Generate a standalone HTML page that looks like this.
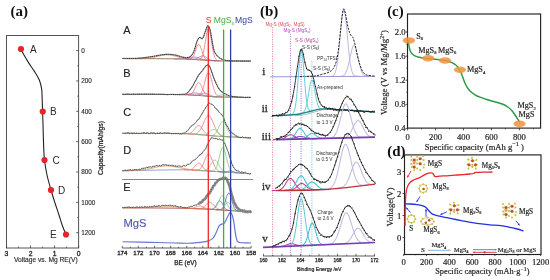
<!DOCTYPE html>
<html><head><meta charset="utf-8"><style>
html,body{margin:0;padding:0;background:#fff;}
svg{display:block;}
</style></head><body>
<svg width="550" height="280" viewBox="0 0 550 280">
<rect width="550" height="280" fill="#fff"/>
<text x="10.6" y="16" font-size="15" fill="#111" font-family="'Liberation Serif', 'Times New Roman', serif" text-anchor="start" font-weight="bold">(a)</text>
<rect x="6.5" y="35.5" width="72.1" height="212.5" fill="none" stroke="#555" stroke-width="1"/>
<line x1="76.2" y1="50.6" x2="78.6" y2="50.6" stroke="#3a3a3a" stroke-width="0.8"/>
<text x="81.2" y="52.9" font-size="6.4" fill="#2a2a2a" font-family="'Liberation Sans', Arial, sans-serif" text-anchor="start" stroke="#2a2a2a" stroke-width="0.12">0</text>
<line x1="77.2" y1="65.77" x2="78.6" y2="65.77" stroke="#3a3a3a" stroke-width="0.7"/>
<line x1="76.2" y1="80.95" x2="78.6" y2="80.95" stroke="#3a3a3a" stroke-width="0.8"/>
<text x="81.2" y="83.25" font-size="6.4" fill="#2a2a2a" font-family="'Liberation Sans', Arial, sans-serif" text-anchor="start" stroke="#2a2a2a" stroke-width="0.12">200</text>
<line x1="77.2" y1="96.12" x2="78.6" y2="96.12" stroke="#3a3a3a" stroke-width="0.7"/>
<line x1="76.2" y1="111.3" x2="78.6" y2="111.3" stroke="#3a3a3a" stroke-width="0.8"/>
<text x="81.2" y="113.6" font-size="6.4" fill="#2a2a2a" font-family="'Liberation Sans', Arial, sans-serif" text-anchor="start" stroke="#2a2a2a" stroke-width="0.12">400</text>
<line x1="77.2" y1="126.47" x2="78.6" y2="126.47" stroke="#3a3a3a" stroke-width="0.7"/>
<line x1="76.2" y1="141.65" x2="78.6" y2="141.65" stroke="#3a3a3a" stroke-width="0.8"/>
<text x="81.2" y="143.95" font-size="6.4" fill="#2a2a2a" font-family="'Liberation Sans', Arial, sans-serif" text-anchor="start" stroke="#2a2a2a" stroke-width="0.12">600</text>
<line x1="77.2" y1="156.82" x2="78.6" y2="156.82" stroke="#3a3a3a" stroke-width="0.7"/>
<line x1="76.2" y1="172" x2="78.6" y2="172" stroke="#3a3a3a" stroke-width="0.8"/>
<text x="81.2" y="174.3" font-size="6.4" fill="#2a2a2a" font-family="'Liberation Sans', Arial, sans-serif" text-anchor="start" stroke="#2a2a2a" stroke-width="0.12">800</text>
<line x1="77.2" y1="187.17" x2="78.6" y2="187.17" stroke="#3a3a3a" stroke-width="0.7"/>
<line x1="76.2" y1="202.35" x2="78.6" y2="202.35" stroke="#3a3a3a" stroke-width="0.8"/>
<text x="81.2" y="204.65" font-size="6.4" fill="#2a2a2a" font-family="'Liberation Sans', Arial, sans-serif" text-anchor="start" stroke="#2a2a2a" stroke-width="0.12">1000</text>
<line x1="77.2" y1="217.52" x2="78.6" y2="217.52" stroke="#3a3a3a" stroke-width="0.7"/>
<line x1="76.2" y1="232.7" x2="78.6" y2="232.7" stroke="#3a3a3a" stroke-width="0.8"/>
<text x="81.2" y="235" font-size="6.4" fill="#2a2a2a" font-family="'Liberation Sans', Arial, sans-serif" text-anchor="start" stroke="#2a2a2a" stroke-width="0.12">1200</text>
<line x1="6.5" y1="245.5" x2="6.5" y2="248" stroke="#3a3a3a" stroke-width="0.8"/>
<text x="6.5" y="255.9" font-size="6.8" fill="#222" font-family="'Liberation Sans', Arial, sans-serif" text-anchor="middle" stroke="#222" stroke-width="0.3">3</text>
<line x1="18.52" y1="246.5" x2="18.52" y2="248" stroke="#3a3a3a" stroke-width="0.7"/>
<line x1="30.53" y1="245.5" x2="30.53" y2="248" stroke="#3a3a3a" stroke-width="0.8"/>
<text x="30.53" y="255.9" font-size="6.8" fill="#222" font-family="'Liberation Sans', Arial, sans-serif" text-anchor="middle" stroke="#222" stroke-width="0.3">2</text>
<line x1="42.55" y1="246.5" x2="42.55" y2="248" stroke="#3a3a3a" stroke-width="0.7"/>
<line x1="54.56" y1="245.5" x2="54.56" y2="248" stroke="#3a3a3a" stroke-width="0.8"/>
<text x="54.56" y="255.9" font-size="6.8" fill="#222" font-family="'Liberation Sans', Arial, sans-serif" text-anchor="middle" stroke="#222" stroke-width="0.3">1</text>
<line x1="66.58" y1="246.5" x2="66.58" y2="248" stroke="#3a3a3a" stroke-width="0.7"/>
<line x1="78.59" y1="245.5" x2="78.59" y2="248" stroke="#3a3a3a" stroke-width="0.8"/>
<text x="78.59" y="255.9" font-size="6.8" fill="#222" font-family="'Liberation Sans', Arial, sans-serif" text-anchor="middle" stroke="#222" stroke-width="0.3">0</text>
<text x="45.8" y="262.4" font-size="6.66" fill="#2a2a2a" font-family="'Liberation Sans', Arial, sans-serif" text-anchor="middle" stroke="#2a2a2a" stroke-width="0.15">Voltage vs. Mg RE(V)</text>
<text x="0" y="0" font-size="6.8" fill="#222" stroke="#222" stroke-width="0.25" font-family="'Liberation Sans', Arial, sans-serif" text-anchor="middle" transform="translate(102.6,148) rotate(-90)">Capacity(mAh/gs)</text>
<path d="M21,49 C21.43,49.88 22.32,51.98 23.6,54.3 C24.88,56.62 26.9,60.05 28.7,62.9 C30.5,65.75 32.63,68.55 34.4,71.4 C36.17,74.25 38.1,77.13 39.3,80 C40.5,82.87 41.13,85.77 41.6,88.6 C42.07,91.43 41.93,93.18 42.1,97 C42.27,100.82 42.43,106.33 42.6,111.5 C42.77,116.67 42.93,122.42 43.1,128 C43.27,133.58 43.37,139.67 43.6,145 C43.83,150.33 43.93,155 44.5,160 C45.07,165 45.92,170 47,175 C48.08,180 49.67,185.33 51,190 C52.33,194.67 53.67,198.83 55,203 C56.33,207.17 57.75,211.17 59,215 C60.25,218.83 61.33,222.75 62.5,226 C63.67,229.25 65.42,233.08 66,234.5" fill="none" stroke="#222" stroke-width="1.1"/>
<circle cx="21" cy="49" r="3.1" fill="#e8232b"/>
<circle cx="42.75" cy="111.5" r="3.1" fill="#e8232b"/>
<circle cx="44.5" cy="160" r="3.1" fill="#e8232b"/>
<circle cx="51" cy="190" r="3.1" fill="#e8232b"/>
<circle cx="66" cy="234.5" r="3.1" fill="#e8232b"/>
<text x="30" y="52.5" font-size="10" fill="#2a2a2a" font-family="'Liberation Sans', Arial, sans-serif" text-anchor="start">A</text>
<text x="50" y="115.3" font-size="10" fill="#2a2a2a" font-family="'Liberation Sans', Arial, sans-serif" text-anchor="start">B</text>
<text x="52.5" y="163.5" font-size="10" fill="#2a2a2a" font-family="'Liberation Sans', Arial, sans-serif" text-anchor="start">C</text>
<text x="58" y="193.8" font-size="10" fill="#2a2a2a" font-family="'Liberation Sans', Arial, sans-serif" text-anchor="start">D</text>
<text x="50" y="238" font-size="10" fill="#2a2a2a" font-family="'Liberation Sans', Arial, sans-serif" text-anchor="start">E</text>
<path d="M122.5,58.6 C132.92,58.67 169.58,58.63 185,59 C200.42,59.37 204,60.43 215,60.8 C226,61.17 245,61.13 251,61.2" fill="none" stroke="#8a6a4a" stroke-width="0.9"/>
<path d="M127.1,58.63 L127.6,58.63 L128.1,58.63 L128.6,58.64 L129.1,58.64 L129.6,58.64 L130.1,58.65 L130.6,58.65 L131.1,58.65 L131.6,58.65 L132.1,58.66 L132.6,58.66 L133.1,58.66 L133.6,58.66 L134.1,58.66 L134.6,58.67 L135.1,58.67 L135.6,58.67 L136.1,58.67 L136.6,58.67 L137.1,58.67 L137.6,58.66 L138.1,58.66 L138.6,58.66 L139.1,58.65 L139.6,58.65 L140.1,58.64 L140.6,58.63 L141.1,58.62 L141.6,58.61 L142.1,58.6 L142.6,58.58 L143.1,58.56 L143.6,58.54 L144.1,58.52 L144.6,58.49 L145.1,58.46 L145.6,58.43 L146.1,58.4 L146.6,58.36 L147.1,58.31 L147.6,58.26 L148.1,58.21 L148.6,58.15 L149.1,58.09 L149.6,58.03 L150.1,57.95 L150.6,57.88 L151.1,57.8 L151.6,57.71 L152.1,57.62 L152.6,57.52 L153.1,57.42 L153.6,57.32 L154.1,57.21 L154.6,57.1 L155.1,56.98 L155.6,56.86 L156.1,56.74 L156.6,56.62 L157.1,56.5 L157.6,56.37 L158.1,56.25 L158.6,56.13 L159.1,56 L159.6,55.88 L160.1,55.77 L160.6,55.66 L161.1,55.55 L161.6,55.45 L162.1,55.35 L162.6,55.26 L163.1,55.18 L163.6,55.11 L164.1,55.05 L164.6,55 L165.1,54.95 L165.6,54.92 L166.1,54.9 L166.6,54.89 L167.1,54.89 L167.6,54.9 L168.1,54.92 L168.6,54.95 L169.1,54.99 L169.6,55.05 L170.1,55.11 L170.6,55.18 L171.1,55.27 L171.6,55.36 L172.1,55.45 L172.6,55.56 L173.1,55.67 L173.6,55.78 L174.1,55.9 L174.6,56.03 L175.1,56.16 L175.6,56.28 L176.1,56.41 L176.6,56.55 L177.1,56.68 L177.6,56.81 L178.1,56.93 L178.6,57.06 L179.1,57.18 L179.6,57.31 L180.1,57.42 L180.6,57.54 L181.1,57.65 L181.6,57.75 L182.1,57.85 L182.6,57.95 L183.1,58.04 L183.6,58.12 L184.1,58.2 L184.6,58.28 L185.1,58.35 L185.6,58.45 L186.1,58.54 L186.6,58.62 L187.1,58.7 L187.6,58.77 L188.1,58.85 L188.6,58.91 L189.1,58.98 L189.6,59.04 L190.1,59.1 L190.6,59.15 L191.1,59.21 L191.6,59.26 L192.1,59.3 L192.6,59.35 L193.1,59.39 L193.6,59.44 L194.1,59.48 L194.6,59.52 L195.1,59.56 L195.6,59.59 L196.1,59.63 L196.6,59.66 L197.1,59.7 L197.6,59.73 L198.1,59.77 L198.6,59.8 L199.1,59.83 L199.6,59.86 L200.1,59.9 L200.6,59.93 L201.1,59.96 L201.6,59.99 L202.1,60.02 L202.6,60.05 L203.1,60.08 L203.6,60.11 L204.1,60.14 L204.6,60.17 L205.1,60.2 L205.6,60.23 L206.1,60.27 L206.6,60.3" fill="none" stroke="#e07a3a" stroke-width="0.75"/>
<path d="M174,58.93 L174.5,58.93 L175,58.94 L175.5,58.94 L176,58.94 L176.5,58.94 L177,58.94 L177.5,58.95 L178,58.95 L178.5,58.95 L179,58.95 L179.5,58.94 L180,58.94 L180.5,58.93 L181,58.92 L181.5,58.91 L182,58.9 L182.5,58.87 L183,58.85 L183.5,58.81 L184,58.77 L184.5,58.72 L185,58.66 L185.5,58.62 L186,58.57 L186.5,58.5 L187,58.42 L187.5,58.34 L188,58.24 L188.5,58.14 L189,58.02 L189.5,57.9 L190,57.78 L190.5,57.66 L191,57.54 L191.5,57.43 L192,57.33 L192.5,57.24 L193,57.17 L193.5,57.12 L194,57.09 L194.5,57.08 L195,57.1 L195.5,57.14 L196,57.21 L196.5,57.3 L197,57.41 L197.5,57.54 L198,57.69 L198.5,57.85 L199,58.02 L199.5,58.2 L200,58.38 L200.5,58.56 L201,58.74 L201.5,58.92 L202,59.08 L202.5,59.24 L203,59.38 L203.5,59.52 L204,59.65 L204.5,59.76 L205,59.86 L205.5,59.95 L206,60.04 L206.5,60.11 L207,60.18 L207.5,60.24 L208,60.29 L208.5,60.34 L209,60.39 L209.5,60.43 L210,60.47 L210.5,60.51 L211,60.55 L211.5,60.58 L212,60.61 L212.5,60.64 L213,60.68 L213.5,60.71 L214,60.74 L214.5,60.77 L215,60.8 L215.5,60.8 L216,60.81" fill="none" stroke="#8a68b0" stroke-width="0.75"/>
<path d="M186.2,59.07 L186.7,59.1 L187.2,59.13 L187.7,59.16 L188.2,59.19 L188.7,59.21 L189.2,59.24 L189.7,59.27 L190.2,59.29 L190.7,59.3 L191.2,59.32 L191.7,59.32 L192.2,59.32 L192.7,59.31 L193.2,59.28 L193.7,59.24 L194.2,59.18 L194.7,59.09 L195.2,58.98 L195.7,58.85 L196.2,58.68 L196.7,58.49 L197.2,58.26 L197.7,58.02 L198.2,57.75 L198.7,57.47 L199.2,57.18 L199.7,56.89 L200.2,56.62 L200.7,56.38 L201.2,56.18 L201.7,56.02 L202.2,55.92 L202.7,55.87 L203.2,55.9 L203.7,55.99 L204.2,56.14 L204.7,56.34 L205.2,56.6 L205.7,56.9 L206.2,57.22 L206.7,57.56 L207.2,57.91 L207.7,58.26 L208.2,58.59 L208.7,58.9 L209.2,59.19 L209.7,59.45 L210.2,59.68 L210.7,59.88 L211.2,60.06 L211.7,60.21 L212.2,60.33 L212.7,60.44 L213.2,60.53 L213.7,60.6 L214.2,60.67 L214.7,60.72 L215.2,60.76 L215.7,60.78 L216.2,60.8 L216.7,60.81 L217.2,60.82 L217.7,60.83 L218.2,60.83 L218.7,60.84 L219.2,60.85 L219.7,60.85" fill="none" stroke="#8a68b0" stroke-width="0.75"/>
<path d="M185.73,59.04 L186.23,59.07 L186.73,59.1 L187.23,59.12 L187.73,59.14 L188.23,59.14 L188.73,59.14 L189.23,59.11 L189.73,59.06 L190.23,58.96 L190.73,58.8 L191.23,58.56 L191.73,58.21 L192.23,57.74 L192.73,57.11 L193.23,56.32 L193.73,55.35 L194.23,54.2 L194.73,52.9 L195.23,51.48 L195.73,50 L196.23,48.54 L196.73,47.17 L197.23,45.99 L197.73,45.08 L198.23,44.51 L198.73,44.32 L199.23,44.54 L199.73,45.14 L200.23,46.08 L200.73,47.3 L201.23,48.72 L201.73,50.24 L202.23,51.78 L202.73,53.27 L203.23,54.64 L203.73,55.86 L204.23,56.9 L204.73,57.77 L205.23,58.47 L205.73,59.02 L206.23,59.43 L206.73,59.74 L207.23,59.97 L207.73,60.13 L208.23,60.25 L208.73,60.34 L209.23,60.4 L209.73,60.45 L210.23,60.5 L210.73,60.53 L211.23,60.57 L211.73,60.6" fill="none" stroke="#f06a6a" stroke-width="0.75"/>
<path d="M195.9,59.65 L196.4,59.67 L196.9,59.7 L197.4,59.71 L197.9,59.71 L198.4,59.69 L198.9,59.64 L199.4,59.54 L199.9,59.37 L200.4,59.09 L200.9,58.66 L201.4,58.04 L201.9,57.17 L202.4,55.99 L202.9,54.47 L203.4,52.56 L203.9,50.26 L204.4,47.59 L204.9,44.62 L205.4,41.46 L205.9,38.27 L206.4,35.24 L206.9,32.56 L207.4,30.42 L207.9,29.01 L208.4,28.42 L208.9,28.72 L209.4,29.87 L209.9,31.8 L210.4,34.34 L210.9,37.32 L211.4,40.53 L211.9,43.78 L212.4,46.9 L212.9,49.76 L213.4,52.27 L213.9,54.4 L214.4,56.14 L214.9,57.51 L215.4,58.53 L215.9,59.28 L216.4,59.82 L216.9,60.19 L217.4,60.43 L217.9,60.6 L218.4,60.7 L218.9,60.76 L219.4,60.81 L219.9,60.83 L220.4,60.85 L220.9,60.86" fill="none" stroke="#f06a6a" stroke-width="0.75"/>
<path d="M122.5,58.46 L123.2,58.41 L123.9,58.53 L124.6,58.39 L125.3,58.5 L126,58.46 L126.7,58.39 L127.4,58.5 L128.1,58.39 L128.8,58.48 L129.5,58.4 L130.2,58.4 L130.9,58.47 L131.6,58.56 L132.3,58.38 L133,58.39 L133.7,58.47 L134.4,58.53 L135.1,58.41 L135.8,58.34 L136.5,58.45 L137.2,58.18 L137.9,58.34 L138.6,58.15 L139.3,58.07 L140,58.01 L140.7,58 L141.4,58.06 L142.1,57.84 L142.8,57.86 L143.5,57.8 L144.2,57.66 L144.9,57.62 L145.6,57.42 L146.3,57.33 L147,57.26 L147.7,57.27 L148.4,57.1 L149.1,56.96 L149.8,56.91 L150.5,56.76 L151.2,56.6 L151.9,56.6 L152.6,56.46 L153.3,56.23 L154,56.19 L154.7,56.06 L155.4,56.02 L156.1,55.87 L156.8,55.63 L157.5,55.67 L158.2,55.33 L158.9,55.28 L159.6,55.23 L160.3,54.97 L161,54.94 L161.7,54.73 L162.4,54.79 L163.1,54.72 L163.8,54.59 L164.5,54.58 L165.2,54.38 L165.9,54.41 L166.6,54.35 L167.3,54.32 L168,54.29 L168.7,54.4 L169.4,54.45 L170.1,54.38 L170.8,54.47 L171.5,54.39 L172.2,54.62 L172.9,54.69 L173.6,54.88 L174.3,54.95 L175,54.95 L175.7,55.12 L176.4,55.37 L177.1,55.42 L177.8,55.74 L178.5,55.9 L179.2,56.12 L179.9,56.32 L180.6,56.71 L181.3,56.74 L182,56.94 L182.7,57.13 L183.4,57.39 L184.1,57.34 L184.8,57.54 L185.5,57.63 L186.2,57.74 L186.9,57.69 L187.6,57.61 L188.3,57.35 L189,57.2 L189.7,56.89 L190.4,56.59 L191.1,56.01 L191.8,55.01 L192.5,53.97 L193.2,52.7 L193.9,51.18 L194.6,49.32 L195.3,46.99 L196,44.46 L196.7,42.18 L197.4,40.54 L198.1,39.1 L198.8,38.05 L199.5,37.47 L200.2,37.4 L200.9,37.99 L201.6,38.69 L202.3,38.8 L203,37.73 L203.7,36.27 L204.4,34.2 L205.1,32.15 L205.8,30.27 L206.5,28.08 L207.2,26.34 L207.9,25.67 L208.6,26.24 L209.3,27.37 L210,29.4 L210.7,32.7 L211.4,36.93 L212.1,40.99 L212.8,44.85 L213.5,48.47 L214.2,50.99 L214.9,52.56 L215.6,53.75 L216.3,54.54 L217,55.59 L217.7,56.36 L218.4,56.95 L219.1,57.56 L219.8,58.05 L220.5,58.43 L221.2,58.73 L221.9,59.23 L222.6,59.56 L223.3,59.71 L224,59.94 L224.7,60.04 L225.4,60.2 L226.1,60.38 L226.8,60.45 L227.5,60.66 L228.2,60.57 L228.9,60.6 L229.6,60.87 L230.3,60.81 L231,60.75 L231.7,60.88 L232.4,60.77 L233.1,60.91 L233.8,61.03 L234.5,61.02 L235.2,60.99 L235.9,60.89 L236.6,60.92 L237.3,60.88 L238,61.03 L238.7,60.98 L239.4,61.05 L240.1,60.96 L240.8,60.95 L241.5,61.1 L242.2,61.15 L242.9,61.12 L243.6,61.11 L244.3,61.11 L245,61.09 L245.7,60.97 L246.4,61.03 L247.1,60.99 L247.8,60.9 L248.5,60.9 L249.2,60.95 L249.9,60.94 L250.6,61.05" fill="none" stroke="#7a7a7a" stroke-width="1.1" stroke-linejoin="round"/>
<path d="M122.5,58.5 C124.58,58.48 131.25,58.55 135,58.4 C138.75,58.25 141.67,58 145,57.6 C148.33,57.2 152.17,56.47 155,56 C157.83,55.53 159.83,55.08 162,54.8 C164.17,54.52 165.83,54.27 168,54.3 C170.17,54.33 172.67,54.55 175,55 C177.33,55.45 180,56.57 182,57 C184,57.43 185.5,57.77 187,57.6 C188.5,57.43 189.83,57.1 191,56 C192.17,54.9 193,53.42 194,51 C195,48.58 196.07,43.78 197,41.5 C197.93,39.22 198.68,37.78 199.6,37.3 C200.52,36.82 201.52,39.65 202.5,38.6 C203.48,37.55 204.63,33.13 205.5,31 C206.37,28.87 206.95,26.05 207.7,25.8 C208.45,25.55 209.28,27.05 210,29.5 C210.72,31.95 211.33,37 212,40.5 C212.67,44 213.17,48 214,50.5 C214.83,53 216,54.22 217,55.5 C218,56.78 218.5,57.38 220,58.2 C221.5,59.02 222.67,59.93 226,60.4 C229.33,60.87 235.83,60.9 240,61 C244.17,61.1 249.17,61 251,61" fill="none" stroke="#2a2a2a" stroke-width="0.8" stroke-dasharray="1.1 1.0"/>
<text x="123.2" y="34" font-size="11" fill="#222" font-family="'Liberation Sans', Arial, sans-serif" stroke="#222" stroke-width="0.15">A</text>
<path d="M122.5,94.3 C132.92,94.37 169.58,94.28 185,94.7 C200.42,95.12 204,96.33 215,96.8 C226,97.27 245,97.38 251,97.5" fill="none" stroke="#8a6a4a" stroke-width="0.9"/>
<path d="M175,94.64 L175.5,94.64 L176,94.64 L176.5,94.64 L177,94.65 L177.5,94.65 L178,94.65 L178.5,94.65 L179,94.65 L179.5,94.65 L180,94.65 L180.5,94.65 L181,94.65 L181.5,94.64 L182,94.63 L182.5,94.62 L183,94.6 L183.5,94.58 L184,94.55 L184.5,94.52 L185,94.48 L185.5,94.46 L186,94.43 L186.5,94.39 L187,94.35 L187.5,94.29 L188,94.21 L188.5,94.13 L189,94.04 L189.5,93.94 L190,93.83 L190.5,93.72 L191,93.6 L191.5,93.49 L192,93.37 L192.5,93.27 L193,93.17 L193.5,93.09 L194,93.02 L194.5,92.98 L195,92.95 L195.5,92.95 L196,92.97 L196.5,93.02 L197,93.09 L197.5,93.19 L198,93.3 L198.5,93.44 L199,93.59 L199.5,93.76 L200,93.93 L200.5,94.12 L201,94.3 L201.5,94.49 L202,94.67 L202.5,94.85 L203,95.02 L203.5,95.18 L204,95.33 L204.5,95.48 L205,95.61 L205.5,95.72 L206,95.83 L206.5,95.93 L207,96.02 L207.5,96.1 L208,96.17 L208.5,96.24 L209,96.29 L209.5,96.35 L210,96.4 L210.5,96.45 L211,96.49 L211.5,96.53 L212,96.58 L212.5,96.61 L213,96.65 L213.5,96.69 L214,96.73 L214.5,96.76 L215,96.8 L215.5,96.81 L216,96.82 L216.5,96.83 L217,96.84" fill="none" stroke="#8a68b0" stroke-width="0.75"/>
<path d="M188.2,94.92 L188.7,94.96 L189.2,94.99 L189.7,95.03 L190.2,95.06 L190.7,95.09 L191.2,95.13 L191.7,95.16 L192.2,95.19 L192.7,95.21 L193.2,95.24 L193.7,95.25 L194.2,95.27 L194.7,95.27 L195.2,95.26 L195.7,95.25 L196.2,95.22 L196.7,95.17 L197.2,95.11 L197.7,95.02 L198.2,94.92 L198.7,94.79 L199.2,94.65 L199.7,94.48 L200.2,94.3 L200.7,94.12 L201.2,93.92 L201.7,93.73 L202.2,93.56 L202.7,93.4 L203.2,93.26 L203.7,93.16 L204.2,93.1 L204.7,93.09 L205.2,93.12 L205.7,93.19 L206.2,93.32 L206.7,93.48 L207.2,93.68 L207.7,93.9 L208.2,94.15 L208.7,94.4 L209.2,94.67 L209.7,94.92 L210.2,95.18 L210.7,95.41 L211.2,95.63 L211.7,95.83 L212.2,96.01 L212.7,96.17 L213.2,96.31 L213.7,96.43 L214.2,96.53 L214.7,96.62 L215.2,96.69 L215.7,96.73 L216.2,96.76 L216.7,96.79 L217.2,96.81 L217.7,96.83 L218.2,96.85 L218.7,96.86 L219.2,96.88 L219.7,96.89 L220.2,96.9 L220.7,96.91 L221.2,96.92 L221.7,96.93" fill="none" stroke="#8a68b0" stroke-width="0.75"/>
<path d="M184.05,94.69 L184.55,94.69 L185.05,94.7 L185.55,94.73 L186.05,94.76 L186.55,94.78 L187.05,94.79 L187.55,94.8 L188.05,94.79 L188.55,94.76 L189.05,94.7 L189.55,94.61 L190.05,94.46 L190.55,94.25 L191.05,93.97 L191.55,93.59 L192.05,93.11 L192.55,92.52 L193.05,91.81 L193.55,90.99 L194.05,90.06 L194.55,89.04 L195.05,87.97 L195.55,86.88 L196.05,85.82 L196.55,84.84 L197.05,83.99 L197.55,83.32 L198.05,82.87 L198.55,82.67 L199.05,82.73 L199.55,83.05 L200.05,83.62 L200.55,84.4 L201.05,85.35 L201.55,86.42 L202.05,87.56 L202.55,88.72 L203.05,89.85 L203.55,90.92 L204.05,91.9 L204.55,92.78 L205.05,93.53 L205.55,94.17 L206.05,94.7 L206.55,95.12 L207.05,95.46 L207.55,95.73 L208.05,95.93 L208.55,96.09 L209.05,96.21 L209.55,96.31 L210.05,96.38 L210.55,96.44 L211.05,96.5 L211.55,96.54 L212.05,96.58 L212.55,96.62 L213.05,96.66" fill="none" stroke="#f06a6a" stroke-width="0.75"/>
<path d="M193.38,95.28 L193.88,95.32 L194.38,95.35 L194.88,95.37 L195.38,95.4 L195.88,95.41 L196.38,95.42 L196.88,95.4 L197.38,95.37 L197.88,95.3 L198.38,95.18 L198.88,95.01 L199.38,94.75 L199.88,94.4 L200.38,93.92 L200.88,93.3 L201.38,92.51 L201.88,91.53 L202.38,90.35 L202.88,88.97 L203.38,87.4 L203.88,85.66 L204.38,83.8 L204.88,81.86 L205.38,79.92 L205.88,78.05 L206.38,76.35 L206.88,74.9 L207.38,73.78 L207.88,73.05 L208.38,72.75 L208.88,72.9 L209.38,73.5 L209.88,74.51 L210.38,75.88 L210.88,77.54 L211.38,79.41 L211.88,81.39 L212.38,83.41 L212.88,85.39 L213.38,87.27 L213.88,89 L214.38,90.54 L214.88,91.88 L215.38,93.01 L215.88,93.93 L216.38,94.68 L216.88,95.27 L217.38,95.72 L217.88,96.06 L218.38,96.32 L218.88,96.51 L219.38,96.64 L219.88,96.74 L220.38,96.8 L220.88,96.85 L221.38,96.88 L221.88,96.91 L222.38,96.93 L222.88,96.95 L223.38,96.96" fill="none" stroke="#f06a6a" stroke-width="0.75"/>
<path d="M209.4,96.41 L209.9,96.44 L210.4,96.48 L210.9,96.51 L211.4,96.54 L211.9,96.58 L212.4,96.61 L212.9,96.63 L213.4,96.66 L213.9,96.67 L214.4,96.68 L214.9,96.67 L215.4,96.63 L215.9,96.56 L216.4,96.48 L216.9,96.37 L217.4,96.23 L217.9,96.07 L218.4,95.89 L218.9,95.7 L219.4,95.51 L219.9,95.33 L220.4,95.17 L220.9,95.04 L221.4,94.96 L221.9,94.94 L222.4,94.96 L222.9,95.04 L223.4,95.17 L223.9,95.34 L224.4,95.53 L224.9,95.74 L225.4,95.95 L225.9,96.15 L226.4,96.34 L226.9,96.5 L227.4,96.65 L227.9,96.76 L228.4,96.86 L228.9,96.93 L229.4,96.98 L229.9,97.03 L230.4,97.06 L230.9,97.08 L231.4,97.1 L231.9,97.12 L232.4,97.13 L232.9,97.15 L233.4,97.16 L233.9,97.17 L234.4,97.18" fill="none" stroke="#70b870" stroke-width="0.75"/>
<path d="M122.5,94.57 L123.2,94.27 L123.9,94.56 L124.6,94.58 L125.3,94.56 L126,94.2 L126.7,94.11 L127.4,94.11 L128.1,94.09 L128.8,94.09 L129.5,94.34 L130.2,94.5 L130.9,94.46 L131.6,94.24 L132.3,94.34 L133,94.42 L133.7,93.99 L134.4,94.33 L135.1,94.48 L135.8,94.39 L136.5,94.37 L137.2,94.2 L137.9,94.02 L138.6,94.38 L139.3,94.11 L140,94.39 L140.7,94.48 L141.4,94.14 L142.1,94.14 L142.8,94.46 L143.5,94.33 L144.2,93.99 L144.9,93.97 L145.6,93.98 L146.3,94.43 L147,94.38 L147.7,93.98 L148.4,94.39 L149.1,94.48 L149.8,94.29 L150.5,94.11 L151.2,94.24 L151.9,93.99 L152.6,93.93 L153.3,94.51 L154,94.33 L154.7,94.27 L155.4,94.52 L156.1,94.24 L156.8,94.51 L157.5,94.5 L158.2,94.14 L158.9,94.18 L159.6,94.22 L160.3,94.2 L161,94.43 L161.7,94.24 L162.4,94.35 L163.1,94.19 L163.8,94.67 L164.5,94.35 L165.2,94.43 L165.9,94.51 L166.6,94.71 L167.3,94.43 L168,94.74 L168.7,94.49 L169.4,94.52 L170.1,94.51 L170.8,94.21 L171.5,94.47 L172.2,94.32 L172.9,94.22 L173.6,94.7 L174.3,94.33 L175,94.51 L175.7,94.67 L176.4,94.56 L177.1,94.42 L177.8,94.53 L178.5,94.54 L179.2,94.66 L179.9,94.23 L180.6,94.48 L181.3,94.26 L182,94.23 L182.7,94.49 L183.4,94.28 L184.1,94.27 L184.8,94.31 L185.5,94.24 L186.2,93.69 L186.9,93.35 L187.6,92.68 L188.3,91.98 L189,91.29 L189.7,90.27 L190.4,89.38 L191.1,88.34 L191.8,87.57 L192.5,86.32 L193.2,85.23 L193.9,83.99 L194.6,82.27 L195.3,81.11 L196,80.01 L196.7,78.66 L197.4,77.01 L198.1,75.86 L198.8,75.03 L199.5,73.87 L200.2,73.09 L200.9,72.14 L201.6,71.62 L202.3,70.77 L203,69.85 L203.7,68.43 L204.4,67.84 L205.1,66.99 L205.8,65.88 L206.5,65.61 L207.2,65.18 L207.9,64.66 L208.6,65.44 L209.3,65.88 L210,67.19 L210.7,69.19 L211.4,71.08 L212.1,72.8 L212.8,75.1 L213.5,77.17 L214.2,78.84 L214.9,80.46 L215.6,82.18 L216.3,84 L217,85.07 L217.7,86.77 L218.4,87.96 L219.1,88.78 L219.8,89.83 L220.5,90.73 L221.2,91.3 L221.9,91.65 L222.6,92.77 L223.3,93.1 L224,93.59 L224.7,93.41 L225.4,93.87 L226.1,94.1 L226.8,94.9 L227.5,94.94 L228.2,95.17 L228.9,95.62 L229.6,96.14 L230.3,96.26 L231,96.07 L231.7,96.14 L232.4,96.72 L233.1,96.61 L233.8,96.79 L234.5,96.5 L235.2,96.56 L235.9,97 L236.6,96.91 L237.3,96.75 L238,97.32 L238.7,97.19 L239.4,97.34 L240.1,96.96 L240.8,97.47 L241.5,97.03 L242.2,97.54 L242.9,97.32 L243.6,97.27 L244.3,97.42 L245,97.66 L245.7,97.27 L246.4,97.2 L247.1,97.45 L247.8,97.28 L248.5,97.22 L249.2,97.26 L249.9,97.2 L250.6,97.31" fill="none" stroke="#7a7a7a" stroke-width="1.1" stroke-linejoin="round"/>
<path d="M122.5,94.3 C127.08,94.28 142.08,94.17 150,94.2 C157.92,94.23 164.5,94.48 170,94.5 C175.5,94.52 180.17,94.52 183,94.3 C185.83,94.08 185.5,94.42 187,93.2 C188.5,91.98 190.18,89.8 192,87 C193.82,84.2 196.23,79.07 197.9,76.4 C199.57,73.73 200.82,72.57 202,71 C203.18,69.43 204.05,68.03 205,67 C205.95,65.97 206.87,64.77 207.7,64.8 C208.53,64.83 208.97,64.97 210,67.2 C211.03,69.43 212.5,74.73 213.9,78.2 C215.3,81.67 217.05,85.7 218.4,88 C219.75,90.3 220.97,91.07 222,92 C223.03,92.93 223.27,92.93 224.6,93.6 C225.93,94.27 227.43,95.4 230,96 C232.57,96.6 236.5,96.95 240,97.2 C243.5,97.45 249.17,97.45 251,97.5" fill="none" stroke="#2a2a2a" stroke-width="0.8" stroke-dasharray="1.1 1.0"/>
<text x="123.2" y="77" font-size="11" fill="#222" font-family="'Liberation Sans', Arial, sans-serif" stroke="#222" stroke-width="0.15">B</text>
<path d="M122.5,133.4 C132.92,133.45 169.58,133.27 185,133.7 C200.42,134.13 204,135.28 215,136 C226,136.72 245,137.67 251,138" fill="none" stroke="#8a8a5a" stroke-width="0.9"/>
<path d="M181.95,133.68 L182.45,133.69 L182.95,133.69 L183.45,133.69 L183.95,133.69 L184.45,133.68 L184.95,133.68 L185.45,133.7 L185.95,133.72 L186.45,133.73 L186.95,133.73 L187.45,133.72 L187.95,133.69 L188.45,133.63 L188.95,133.55 L189.45,133.42 L189.95,133.26 L190.45,133.05 L190.95,132.78 L191.45,132.45 L191.95,132.06 L192.45,131.61 L192.95,131.09 L193.45,130.52 L193.95,129.91 L194.45,129.26 L194.95,128.6 L195.45,127.95 L195.95,127.34 L196.45,126.78 L196.95,126.3 L197.45,125.93 L197.95,125.68 L198.45,125.56 L198.95,125.58 L199.45,125.75 L199.95,126.05 L200.45,126.48 L200.95,127.01 L201.45,127.64 L201.95,128.32 L202.45,129.04 L202.95,129.77 L203.45,130.5 L203.95,131.2 L204.45,131.86 L204.95,132.46 L205.45,133.01 L205.95,133.49 L206.45,133.9 L206.95,134.26 L207.45,134.56 L207.95,134.81 L208.45,135.01 L208.95,135.18 L209.45,135.32 L209.95,135.43 L210.45,135.52 L210.95,135.6 L211.45,135.67 L211.95,135.73 L212.45,135.78 L212.95,135.83 L213.45,135.87 L213.95,135.91 L214.45,135.95 L214.95,135.99 L215.45,136.02" fill="none" stroke="#f06a6a" stroke-width="0.75"/>
<path d="M187.6,133.9 L188.1,133.93 L188.6,133.97 L189.1,134 L189.6,134.04 L190.1,134.07 L190.6,134.1 L191.1,134.12 L191.6,134.14 L192.1,134.16 L192.6,134.16 L193.1,134.16 L193.6,134.14 L194.1,134.1 L194.6,134.04 L195.1,133.95 L195.6,133.83 L196.1,133.67 L196.6,133.47 L197.1,133.21 L197.6,132.89 L198.1,132.5 L198.6,132.04 L199.1,131.49 L199.6,130.86 L200.1,130.14 L200.6,129.34 L201.1,128.44 L201.6,127.47 L202.1,126.42 L202.6,125.31 L203.1,124.17 L203.6,123 L204.1,121.82 L204.6,120.68 L205.1,119.59 L205.6,118.57 L206.1,117.67 L206.6,116.89 L207.1,116.27 L207.6,115.83 L208.1,115.57 L208.6,115.51 L209.1,115.65 L209.6,115.98 L210.1,116.5 L210.6,117.2 L211.1,118.05 L211.6,119.03 L212.1,120.12 L212.6,121.29 L213.1,122.51 L213.6,123.76 L214.1,125.01 L214.6,126.23 L215.1,127.41 L215.6,128.53 L216.1,129.57 L216.6,130.53 L217.1,131.4 L217.6,132.19 L218.1,132.88 L218.6,133.49 L219.1,134.02 L219.6,134.48 L220.1,134.86 L220.6,135.19 L221.1,135.46 L221.6,135.69 L222.1,135.87 L222.6,136.03 L223.1,136.15 L223.6,136.26 L224.1,136.34 L224.6,136.41 L225.1,136.47 L225.6,136.53 L226.1,136.57 L226.6,136.61 L227.1,136.65 L227.6,136.69 L228.1,136.72 L228.6,136.75 L229.1,136.78 L229.6,136.81" fill="none" stroke="#f06a6a" stroke-width="0.75"/>
<path d="M197.1,134.63 L197.6,134.66 L198.1,134.7 L198.6,134.74 L199.1,134.77 L199.6,134.81 L200.1,134.84 L200.6,134.87 L201.1,134.9 L201.6,134.92 L202.1,134.93 L202.6,134.93 L203.1,134.92 L203.6,134.89 L204.1,134.84 L204.6,134.77 L205.1,134.66 L205.6,134.52 L206.1,134.35 L206.6,134.13 L207.1,133.86 L207.6,133.55 L208.1,133.2 L208.6,132.81 L209.1,132.38 L209.6,131.94 L210.1,131.48 L210.6,131.04 L211.1,130.61 L211.6,130.23 L212.1,129.9 L212.6,129.65 L213.1,129.48 L213.6,129.41 L214.1,129.44 L214.6,129.57 L215.1,129.79 L215.6,130.09 L216.1,130.47 L216.6,130.91 L217.1,131.4 L217.6,131.91 L218.1,132.43 L218.6,132.94 L219.1,133.44 L219.6,133.9 L220.1,134.33 L220.6,134.71 L221.1,135.05 L221.6,135.35 L222.1,135.6 L222.6,135.81 L223.1,135.99 L223.6,136.13 L224.1,136.25 L224.6,136.35 L225.1,136.43 L225.6,136.5 L226.1,136.55 L226.6,136.6 L227.1,136.64 L227.6,136.68 L228.1,136.72 L228.6,136.75 L229.1,136.78 L229.6,136.81 L230.1,136.84 L230.6,136.87" fill="none" stroke="#78c078" stroke-width="0.75"/>
<path d="M206.1,135.32 L206.6,135.35 L207.1,135.39 L207.6,135.42 L208.1,135.46 L208.6,135.48 L209.1,135.51 L209.6,135.53 L210.1,135.53 L210.6,135.53 L211.1,135.51 L211.6,135.46 L212.1,135.39 L212.6,135.27 L213.1,135.11 L213.6,134.89 L214.1,134.6 L214.6,134.23 L215.1,133.76 L215.6,133.2 L216.1,132.52 L216.6,131.75 L217.1,130.87 L217.6,129.91 L218.1,128.87 L218.6,127.78 L219.1,126.68 L219.6,125.58 L220.1,124.54 L220.6,123.6 L221.1,122.78 L221.6,122.14 L222.1,121.69 L222.6,121.46 L223.1,121.47 L223.6,121.71 L224.1,122.17 L224.6,122.83 L225.1,123.67 L225.6,124.64 L226.1,125.72 L226.6,126.87 L227.1,128.03 L227.6,129.18 L228.1,130.28 L228.6,131.32 L229.1,132.27 L229.6,133.12 L230.1,133.87 L230.6,134.51 L231.1,135.06 L231.6,135.51 L232.1,135.88 L232.6,136.19 L233.1,136.42 L233.6,136.61 L234.1,136.76 L234.6,136.88 L235.1,136.97 L235.6,137.05 L236.1,137.11 L236.6,137.16 L237.1,137.2 L237.6,137.24 L238.1,137.27 L238.6,137.3 L239.1,137.33 L239.6,137.36" fill="none" stroke="#78c078" stroke-width="0.75"/>
<path d="M122.5,133.02 L123.2,133 L123.9,133.68 L124.6,132.98 L125.3,133.29 L126,132.8 L126.7,133.05 L127.4,132.56 L128.1,132.9 L128.8,132.54 L129.5,133.62 L130.2,133.34 L130.9,132.79 L131.6,133.22 L132.3,133.9 L133,132.66 L133.7,133.72 L134.4,133.14 L135.1,133.23 L135.8,133.74 L136.5,133.07 L137.2,133.24 L137.9,133.5 L138.6,133.94 L139.3,132.98 L140,133.71 L140.7,133.52 L141.4,133.41 L142.1,133.06 L142.8,132.98 L143.5,132.53 L144.2,132.65 L144.9,132.56 L145.6,133.56 L146.3,132.83 L147,132.69 L147.7,132.57 L148.4,133.71 L149.1,133.75 L149.8,133.46 L150.5,132.87 L151.2,132.82 L151.9,132.9 L152.6,133.15 L153.3,132.7 L154,133.14 L154.7,132.87 L155.4,133.93 L156.1,133.95 L156.8,133.32 L157.5,132.88 L158.2,133.97 L158.9,132.99 L159.6,133.07 L160.3,132.55 L161,133.13 L161.7,133.28 L162.4,133.33 L163.1,132.88 L163.8,133.35 L164.5,132.61 L165.2,133 L165.9,132.75 L166.6,133.22 L167.3,132.69 L168,132.67 L168.7,133.1 L169.4,133 L170.1,133.53 L170.8,133.45 L171.5,133.78 L172.2,133.64 L172.9,133.73 L173.6,133.97 L174.3,133.24 L175,133.14 L175.7,134.14 L176.4,132.92 L177.1,133.82 L177.8,133.76 L178.5,132.91 L179.2,134.14 L179.9,134.24 L180.6,133.84 L181.3,133.96 L182,134 L182.7,132.86 L183.4,133.25 L184.1,132.97 L184.8,133.1 L185.5,132.58 L186.2,132.05 L186.9,131.06 L187.6,130.84 L188.3,129.81 L189,129.09 L189.7,127.68 L190.4,126.68 L191.1,126.18 L191.8,125.88 L192.5,124.86 L193.2,125.32 L193.9,124.26 L194.6,123.7 L195.3,123.02 L196,122.39 L196.7,121.36 L197.4,119.85 L198.1,120.2 L198.8,119.21 L199.5,117.84 L200.2,116.82 L200.9,115.9 L201.6,113.89 L202.3,113.77 L203,111.94 L203.7,110.56 L204.4,109.63 L205.1,109.07 L205.8,107.02 L206.5,106.62 L207.2,105.87 L207.9,104.21 L208.6,103.32 L209.3,103.12 L210,103.5 L210.7,103.97 L211.4,104.24 L212.1,104.79 L212.8,104.53 L213.5,105.35 L214.2,106.31 L214.9,107.86 L215.6,108 L216.3,109.15 L217,109.07 L217.7,109.91 L218.4,110.99 L219.1,112.37 L219.8,113.11 L220.5,113.76 L221.2,113.88 L221.9,115.01 L222.6,115.88 L223.3,117.11 L224,118.27 L224.7,121.31 L225.4,122.03 L226.1,124.67 L226.8,125.97 L227.5,125.88 L228.2,127.8 L228.9,129.58 L229.6,130.9 L230.3,130.95 L231,131.42 L231.7,132.03 L232.4,133.8 L233.1,133.32 L233.8,134.45 L234.5,134.32 L235.2,135.37 L235.9,136.43 L236.6,135.58 L237.3,136.95 L238,136.76 L238.7,137.57 L239.4,137.48 L240.1,136.91 L240.8,138.02 L241.5,137.5 L242.2,136.88 L242.9,136.92 L243.6,137.7 L244.3,137.68 L245,137.49 L245.7,137.27 L246.4,137.6 L247.1,137.58 L247.8,138.38 L248.5,137.14 L249.2,138.29 L249.9,138.45 L250.6,137.41" fill="none" stroke="#6e6e6e" stroke-width="1.0" stroke-linejoin="round"/>
<path d="M122.5,133.3 C127.08,133.28 141.25,133.18 150,133.2 C158.75,133.22 169.33,133.43 175,133.4 C180.67,133.37 181.38,134.05 184,133 C186.62,131.95 188.38,129.27 190.7,127.1 C193.02,124.93 195.82,122.52 197.9,120 C199.98,117.48 201.42,114.75 203.2,112 C204.98,109.25 207.13,104.75 208.6,103.5 C210.07,102.25 210.82,103.68 212,104.5 C213.18,105.32 214.53,107.15 215.7,108.4 C216.87,109.65 217.8,110.67 219,112 C220.2,113.33 221.82,114.62 222.9,116.4 C223.98,118.18 224.65,120.85 225.5,122.7 C226.35,124.55 227.25,126.17 228,127.5 C228.75,128.83 228.83,129.42 230,130.7 C231.17,131.98 233.33,134.1 235,135.2 C236.67,136.3 237.33,136.83 240,137.3 C242.67,137.77 249.17,137.88 251,138" fill="none" stroke="#222" stroke-width="0.55" stroke-dasharray="0.8 1.5"/>
<text x="123.2" y="115.5" font-size="11" fill="#222" font-family="'Liberation Sans', Arial, sans-serif" stroke="#222" stroke-width="0.15">C</text>
<path d="M122.5,170.8 C132.92,170.63 169.58,169.68 185,169.8 C200.42,169.92 204,170.83 215,171.5 C226,172.17 245,173.42 251,173.8" fill="none" stroke="#8898c8" stroke-width="0.9"/>
<path d="M122.5,170.79 L123,170.79 L123.5,170.78 L124,170.77 L124.5,170.76 L125,170.75 L125.5,170.74 L126,170.73 L126.5,170.72 L127,170.71 L127.5,170.7 L128,170.68 L128.5,170.67 L129,170.66 L129.5,170.65 L130,170.63 L130.5,170.62 L131,170.6 L131.5,170.59 L132,170.57 L132.5,170.55 L133,170.54 L133.5,170.52 L134,170.5 L134.5,170.47 L135,170.45 L135.5,170.43 L136,170.4 L136.5,170.37 L137,170.34 L137.5,170.31 L138,170.28 L138.5,170.24 L139,170.2 L139.5,170.16 L140,170.12 L140.5,170.07 L141,170.02 L141.5,169.97 L142,169.92 L142.5,169.86 L143,169.8 L143.5,169.74 L144,169.67 L144.5,169.6 L145,169.53 L145.5,169.46 L146,169.38 L146.5,169.29 L147,169.21 L147.5,169.12 L148,169.03 L148.5,168.93 L149,168.84 L149.5,168.74 L150,168.63 L150.5,168.53 L151,168.42 L151.5,168.31 L152,168.2 L152.5,168.09 L153,167.98 L153.5,167.86 L154,167.75 L154.5,167.63 L155,167.52 L155.5,167.41 L156,167.3 L156.5,167.19 L157,167.08 L157.5,166.97 L158,166.87 L158.5,166.77 L159,166.67 L159.5,166.58 L160,166.49 L160.5,166.41 L161,166.33 L161.5,166.26 L162,166.19 L162.5,166.13 L163,166.08 L163.5,166.03 L164,165.99 L164.5,165.96 L165,165.93 L165.5,165.92 L166,165.9 L166.5,165.9 L167,165.9 L167.5,165.91 L168,165.93 L168.5,165.95 L169,165.99 L169.5,166.02 L170,166.07 L170.5,166.12 L171,166.17 L171.5,166.23 L172,166.3 L172.5,166.37 L173,166.45 L173.5,166.53 L174,166.61 L174.5,166.7 L175,166.79 L175.5,166.88 L176,166.98 L176.5,167.07 L177,167.17 L177.5,167.27 L178,167.36 L178.5,167.46 L179,167.56 L179.5,167.66 L180,167.75 L180.5,167.85 L181,167.94 L181.5,168.03 L182,168.12 L182.5,168.21 L183,168.29 L183.5,168.37 L184,168.45 L184.5,168.53 L185,168.6 L185.5,168.71 L186,168.81 L186.5,168.91 L187,169.01 L187.5,169.1 L188,169.19 L188.5,169.27 L189,169.36 L189.5,169.44 L190,169.51 L190.5,169.59 L191,169.66 L191.5,169.73 L192,169.8 L192.5,169.86 L193,169.92 L193.5,169.98 L194,170.03 L194.5,170.09 L195,170.14 L195.5,170.19 L196,170.24 L196.5,170.29 L197,170.33 L197.5,170.37 L198,170.42 L198.5,170.46 L199,170.5 L199.5,170.54 L200,170.57 L200.5,170.61 L201,170.65 L201.5,170.68 L202,170.72 L202.5,170.75 L203,170.78 L203.5,170.82 L204,170.85 L204.5,170.88 L205,170.91 L205.5,170.94 L206,170.97 L206.5,171 L207,171.03 L207.5,171.06 L208,171.09 L208.5,171.12 L209,171.15 L209.5,171.18 L210,171.21 L210.5,171.24 L211,171.27 L211.5,171.3 L212,171.33 L212.5,171.36 L213,171.38 L213.5,171.41 L214,171.44 L214.5,171.47 L215,171.5 L215.5,171.53 L216,171.56" fill="none" stroke="#e07a3a" stroke-width="0.75"/>
<path d="M184.05,169.81 L184.55,169.81 L185.05,169.8 L185.55,169.83 L186.05,169.85 L186.55,169.87 L187.05,169.89 L187.55,169.9 L188.05,169.9 L188.55,169.89 L189.05,169.87 L189.55,169.82 L190.05,169.74 L190.55,169.63 L191.05,169.48 L191.55,169.27 L192.05,169 L192.55,168.67 L193.05,168.26 L193.55,167.8 L194.05,167.27 L194.55,166.69 L195.05,166.08 L195.55,165.46 L196.05,164.86 L196.55,164.3 L197.05,163.82 L197.55,163.44 L198.05,163.19 L198.55,163.08 L199.05,163.12 L199.55,163.32 L200.05,163.65 L200.55,164.11 L201.05,164.67 L201.55,165.29 L202.05,165.96 L202.55,166.63 L203.05,167.3 L203.55,167.92 L204.05,168.5 L204.55,169.01 L205.05,169.45 L205.55,169.83 L206.05,170.14 L206.55,170.4 L207.05,170.6 L207.55,170.76 L208.05,170.89 L208.55,170.99 L209.05,171.06 L209.55,171.13 L210.05,171.18 L210.55,171.22 L211.05,171.26 L211.55,171.3 L212.05,171.33 L212.55,171.36 L213.05,171.39" fill="none" stroke="#f06a6a" stroke-width="0.75"/>
<path d="M191.8,170.18 L192.3,170.21 L192.8,170.24 L193.3,170.26 L193.8,170.28 L194.3,170.3 L194.8,170.31 L195.3,170.32 L195.8,170.31 L196.3,170.29 L196.8,170.25 L197.3,170.18 L197.8,170.08 L198.3,169.94 L198.8,169.74 L199.3,169.47 L199.8,169.13 L200.3,168.69 L200.8,168.16 L201.3,167.51 L201.8,166.74 L202.3,165.86 L202.8,164.87 L203.3,163.77 L203.8,162.59 L204.3,161.35 L204.8,160.1 L205.3,158.85 L205.8,157.67 L206.3,156.6 L206.8,155.67 L207.3,154.94 L207.8,154.43 L208.3,154.17 L208.8,154.17 L209.3,154.44 L209.8,154.95 L210.3,155.7 L210.8,156.65 L211.3,157.75 L211.8,158.97 L212.3,160.26 L212.8,161.58 L213.3,162.88 L213.8,164.13 L214.3,165.3 L214.8,166.37 L215.3,167.34 L215.8,168.19 L216.3,168.92 L216.8,169.54 L217.3,170.05 L217.8,170.47 L218.3,170.81 L218.8,171.08 L219.3,171.3 L219.8,171.47 L220.3,171.6 L220.8,171.71 L221.3,171.79 L221.8,171.86 L222.3,171.92 L222.8,171.97 L223.3,172.01 L223.8,172.05 L224.3,172.09 L224.8,172.12 L225.3,172.16" fill="none" stroke="#f06a6a" stroke-width="0.75"/>
<path d="M198,170.53 L198.5,170.56 L199,170.59 L199.5,170.61 L200,170.64 L200.5,170.66 L201,170.68 L201.5,170.69 L202,170.69 L202.5,170.69 L203,170.67 L203.5,170.64 L204,170.58 L204.5,170.49 L205,170.36 L205.5,170.19 L206,169.97 L206.5,169.68 L207,169.33 L207.5,168.9 L208,168.39 L208.5,167.8 L209,167.14 L209.5,166.41 L210,165.62 L210.5,164.79 L211,163.95 L211.5,163.12 L212,162.33 L212.5,161.61 L213,160.99 L213.5,160.51 L214,160.17 L214.5,160 L215,160.01 L215.5,160.21 L216,160.57 L216.5,161.09 L217,161.74 L217.5,162.5 L218,163.34 L218.5,164.23 L219,165.13 L219.5,166.02 L220,166.88 L220.5,167.69 L221,168.42 L221.5,169.09 L222,169.67 L222.5,170.18 L223,170.6 L223.5,170.96 L224,171.26 L224.5,171.5 L225,171.69 L225.5,171.85 L226,171.97 L226.5,172.08 L227,172.16 L227.5,172.22 L228,172.28 L228.5,172.33 L229,172.37 L229.5,172.41 L230,172.45 L230.5,172.49 L231,172.52 L231.5,172.55" fill="none" stroke="#78c078" stroke-width="0.75"/>
<path d="M208.2,171.11 L208.7,171.14 L209.2,171.16 L209.7,171.18 L210.2,171.19 L210.7,171.2 L211.2,171.19 L211.7,171.17 L212.2,171.11 L212.7,171.02 L213.2,170.87 L213.7,170.65 L214.2,170.34 L214.7,169.91 L215.2,169.33 L215.7,168.59 L216.2,167.66 L216.7,166.51 L217.2,165.14 L217.7,163.55 L218.2,161.76 L218.7,159.81 L219.2,157.76 L219.7,155.67 L220.2,153.64 L220.7,151.76 L221.2,150.12 L221.7,148.83 L222.2,147.95 L222.7,147.53 L223.2,147.61 L223.7,148.19 L224.2,149.22 L224.7,150.65 L225.2,152.41 L225.7,154.39 L226.2,156.51 L226.7,158.66 L227.2,160.76 L227.7,162.74 L228.2,164.56 L228.7,166.17 L229.2,167.56 L229.7,168.73 L230.2,169.69 L230.7,170.46 L231.2,171.06 L231.7,171.53 L232.2,171.88 L232.7,172.14 L233.2,172.34 L233.7,172.49 L234.2,172.59 L234.7,172.68 L235.2,172.74 L235.7,172.79 L236.2,172.84 L236.7,172.88 L237.2,172.91" fill="none" stroke="#78c078" stroke-width="0.75"/>
<path d="M218.4,171.72 L218.9,171.75 L219.4,171.78 L219.9,171.81 L220.4,171.84 L220.9,171.87 L221.4,171.9 L221.9,171.92 L222.4,171.95 L222.9,171.96 L223.4,171.97 L223.9,171.97 L224.4,171.96 L224.9,171.93 L225.4,171.88 L225.9,171.82 L226.4,171.73 L226.9,171.63 L227.4,171.51 L227.9,171.39 L228.4,171.26 L228.9,171.14 L229.4,171.03 L229.9,170.96 L230.4,170.92 L230.9,170.92 L231.4,170.96 L231.9,171.05 L232.4,171.18 L232.9,171.33 L233.4,171.51 L233.9,171.7 L234.4,171.9 L234.9,172.08 L235.4,172.26 L235.9,172.41 L236.4,172.55 L236.9,172.67 L237.4,172.77 L237.9,172.85 L238.4,172.92 L238.9,172.98 L239.4,173.03 L239.9,173.07 L240.4,173.11 L240.9,173.15 L241.4,173.18 L241.9,173.22 L242.4,173.25 L242.9,173.28 L243.4,173.31" fill="none" stroke="#4a58c8" stroke-width="0.75"/>
<path d="M122.5,171 L123.2,170.67 L123.9,170.9 L124.6,170.02 L125.3,170.12 L126,170.12 L126.7,170.95 L127.4,170.36 L128.1,170.02 L128.8,170.09 L129.5,169.85 L130.2,169.5 L130.9,169.55 L131.6,170.54 L132.3,169.73 L133,170.59 L133.7,169.57 L134.4,169.53 L135.1,169.8 L135.8,169.27 L136.5,169.43 L137.2,170.14 L137.9,169.92 L138.6,169.7 L139.3,169.31 L140,169.57 L140.7,169.47 L141.4,168.78 L142.1,168.87 L142.8,167.79 L143.5,168.61 L144.2,168.08 L144.9,168.37 L145.6,168.09 L146.3,167.46 L147,166.99 L147.7,168.09 L148.4,166.83 L149.1,167.18 L149.8,166.86 L150.5,166.67 L151.2,167.15 L151.9,167.36 L152.6,166.23 L153.3,166.67 L154,166.07 L154.7,166.32 L155.4,166 L156.1,165.58 L156.8,165.48 L157.5,165.45 L158.2,166.33 L158.9,165.67 L159.6,165.19 L160.3,166.07 L161,166.12 L161.7,165.28 L162.4,164.78 L163.1,164.8 L163.8,164.61 L164.5,164.92 L165.2,164.55 L165.9,164.74 L166.6,164.76 L167.3,165.21 L168,165.7 L168.7,165.55 L169.4,165.15 L170.1,165.23 L170.8,165.47 L171.5,165.35 L172.2,165.39 L172.9,165.1 L173.6,165.5 L174.3,166.56 L175,165.46 L175.7,166.06 L176.4,166.3 L177.1,166.67 L177.8,165.8 L178.5,165.89 L179.2,165.87 L179.9,166.08 L180.6,166.14 L181.3,166.83 L182,166.64 L182.7,166.62 L183.4,165.35 L184.1,165.27 L184.8,166.09 L185.5,166.19 L186.2,165.4 L186.9,165.29 L187.6,164.12 L188.3,164.25 L189,164.54 L189.7,163.91 L190.4,163.44 L191.1,163.09 L191.8,161.55 L192.5,160.83 L193.2,160.34 L193.9,160.3 L194.6,159.94 L195.3,159.72 L196,158.81 L196.7,158.09 L197.4,157.63 L198.1,156.56 L198.8,156.06 L199.5,154.73 L200.2,155.15 L200.9,153.75 L201.6,154.06 L202.3,152.99 L203,151.78 L203.7,150.74 L204.4,150.05 L205.1,149.65 L205.8,148.57 L206.5,146.37 L207.2,144.8 L207.9,143.89 L208.6,142.48 L209.3,140.88 L210,139.54 L210.7,139.15 L211.4,137.66 L212.1,137.72 L212.8,137.87 L213.5,138.62 L214.2,138.34 L214.9,138.9 L215.6,138.57 L216.3,138.46 L217,138.65 L217.7,139.76 L218.4,139.51 L219.1,139.06 L219.8,138.78 L220.5,139.6 L221.2,140 L221.9,139.82 L222.6,139.93 L223.3,141.16 L224,142.62 L224.7,143.05 L225.4,144.55 L226.1,146.83 L226.8,148.59 L227.5,150.57 L228.2,151.61 L228.9,154.32 L229.6,156.5 L230.3,158.68 L231,160.59 L231.7,163.68 L232.4,164.58 L233.1,166.85 L233.8,167.36 L234.5,168.4 L235.2,169.82 L235.9,169.67 L236.6,171.03 L237.3,170.77 L238,170.67 L238.7,171 L239.4,171.51 L240.1,172.06 L240.8,172.64 L241.5,171.68 L242.2,172.17 L242.9,172.06 L243.6,173.25 L244.3,172.2 L245,172.19 L245.7,172.3 L246.4,172.87 L247.1,173.68 L247.8,173.75 L248.5,173.64 L249.2,174.11 L249.9,174.12 L250.6,173.39" fill="none" stroke="#6e6e6e" stroke-width="1.0" stroke-linejoin="round"/>
<path d="M122.5,170.4 C124.58,170.3 131.25,170.2 135,169.8 C138.75,169.4 141.67,168.6 145,168 C148.33,167.4 151.43,166.68 155,166.2 C158.57,165.72 162.57,165.1 166.4,165.1 C170.23,165.1 174.73,166.13 178,166.2 C181.27,166.27 183.83,166.12 186,165.5 C188.17,164.88 189.02,163.95 191,162.5 C192.98,161.05 195.57,158.95 197.9,156.8 C200.23,154.65 203.07,152.28 205,149.6 C206.93,146.92 208.32,142.63 209.5,140.7 C210.68,138.77 210.85,138.28 212.1,138 C213.35,137.72 215.6,138.73 217,139 C218.4,139.27 219.52,139.35 220.5,139.6 C221.48,139.85 222.23,139.93 222.9,140.5 C223.57,141.07 223.95,141.87 224.5,143 C225.05,144.13 225.67,146 226.2,147.3 C226.73,148.6 227.22,149.6 227.7,150.8 C228.18,152 228.55,152.8 229.1,154.5 C229.65,156.2 230.35,159.05 231,161 C231.65,162.95 232.33,164.82 233,166.2 C233.67,167.58 233.83,168.37 235,169.3 C236.17,170.23 237.33,171.07 240,171.8 C242.67,172.53 249.17,173.38 251,173.7" fill="none" stroke="#222" stroke-width="0.55" stroke-dasharray="0.8 1.5"/>
<text x="123.2" y="154" font-size="11" fill="#222" font-family="'Liberation Sans', Arial, sans-serif" stroke="#222" stroke-width="0.15">D</text>
<path d="M122.5,207.8 C132.92,207.88 169.58,208 185,208.3 C200.42,208.6 204,208.98 215,209.6 C226,210.22 245,211.6 251,212" fill="none" stroke="#a04a36" stroke-width="0.9"/>
<path d="M122.5,207.8 L123,207.8 L123.5,207.8 L124,207.81 L124.5,207.81 L125,207.81 L125.5,207.82 L126,207.82 L126.5,207.82 L127,207.82 L127.5,207.82 L128,207.83 L128.5,207.83 L129,207.83 L129.5,207.83 L130,207.83 L130.5,207.83 L131,207.83 L131.5,207.83 L132,207.83 L132.5,207.83 L133,207.83 L133.5,207.82 L134,207.82 L134.5,207.82 L135,207.81 L135.5,207.81 L136,207.8 L136.5,207.79 L137,207.78 L137.5,207.78 L138,207.76 L138.5,207.75 L139,207.74 L139.5,207.73 L140,207.71 L140.5,207.7 L141,207.68 L141.5,207.66 L142,207.64 L142.5,207.62 L143,207.59 L143.5,207.57 L144,207.54 L144.5,207.51 L145,207.48 L145.5,207.45 L146,207.42 L146.5,207.38 L147,207.35 L147.5,207.31 L148,207.27 L148.5,207.23 L149,207.19 L149.5,207.15 L150,207.1 L150.5,207.06 L151,207.02 L151.5,206.97 L152,206.92 L152.5,206.88 L153,206.83 L153.5,206.78 L154,206.74 L154.5,206.69 L155,206.65 L155.5,206.6 L156,206.56 L156.5,206.52 L157,206.47 L157.5,206.43 L158,206.4 L158.5,206.36 L159,206.33 L159.5,206.3 L160,206.27 L160.5,206.24 L161,206.22 L161.5,206.2 L162,206.18 L162.5,206.16 L163,206.15 L163.5,206.14 L164,206.14 L164.5,206.14 L165,206.14 L165.5,206.15 L166,206.15 L166.5,206.17 L167,206.18 L167.5,206.2 L168,206.23 L168.5,206.25 L169,206.28 L169.5,206.31 L170,206.35 L170.5,206.38 L171,206.42 L171.5,206.46 L172,206.51 L172.5,206.55 L173,206.6 L173.5,206.65 L174,206.7 L174.5,206.75 L175,206.81 L175.5,206.86 L176,206.91 L176.5,206.97 L177,207.02 L177.5,207.08 L178,207.13 L178.5,207.19 L179,207.24 L179.5,207.29 L180,207.34 L180.5,207.4 L181,207.45 L181.5,207.49 L182,207.54 L182.5,207.59 L183,207.63 L183.5,207.68 L184,207.72 L184.5,207.76 L185,207.8 L185.5,207.86 L186,207.91 L186.5,207.96 L187,208.01 L187.5,208.06 L188,208.11 L188.5,208.16 L189,208.2 L189.5,208.25 L190,208.29 L190.5,208.33 L191,208.37 L191.5,208.41 L192,208.44 L192.5,208.48 L193,208.52 L193.5,208.55 L194,208.58 L194.5,208.61 L195,208.65 L195.5,208.68 L196,208.71 L196.5,208.73 L197,208.76 L197.5,208.79 L198,208.82 L198.5,208.84 L199,208.87 L199.5,208.9 L200,208.92 L200.5,208.95 L201,208.97 L201.5,209 L202,209.02 L202.5,209.04 L203,209.07 L203.5,209.09 L204,209.11 L204.5,209.14 L205,209.16 L205.5,209.18 L206,209.2 L206.5,209.23 L207,209.25 L207.5,209.27 L208,209.29 L208.5,209.32 L209,209.34 L209.5,209.36 L210,209.38 L210.5,209.4 L211,209.43 L211.5,209.45 L212,209.47 L212.5,209.49 L213,209.51 L213.5,209.53 L214,209.56 L214.5,209.58 L215,209.6" fill="none" stroke="#e07a3a" stroke-width="0.75"/>
<path d="M183.2,208.29 L183.7,208.29 L184.2,208.29 L184.7,208.3 L185.2,208.31 L185.7,208.33 L186.2,208.34 L186.7,208.36 L187.2,208.38 L187.7,208.39 L188.2,208.4 L188.7,208.4 L189.2,208.4 L189.7,208.39 L190.2,208.38 L190.7,208.35 L191.2,208.3 L191.7,208.24 L192.2,208.16 L192.7,208.07 L193.2,207.95 L193.7,207.81 L194.2,207.65 L194.7,207.47 L195.2,207.28 L195.7,207.08 L196.2,206.87 L196.7,206.67 L197.2,206.48 L197.7,206.31 L198.2,206.16 L198.7,206.05 L199.2,205.97 L199.7,205.95 L200.2,205.96 L200.7,206.03 L201.2,206.13 L201.7,206.28 L202.2,206.47 L202.7,206.68 L203.2,206.91 L203.7,207.15 L204.2,207.4 L204.7,207.65 L205.2,207.89 L205.7,208.11 L206.2,208.32 L206.7,208.5 L207.2,208.67 L207.7,208.81 L208.2,208.94 L208.7,209.05 L209.2,209.14 L209.7,209.21 L210.2,209.28 L210.7,209.33 L211.2,209.38 L211.7,209.42 L212.2,209.45 L212.7,209.48 L213.2,209.51 L213.7,209.54 L214.2,209.56 L214.7,209.58 L215.2,209.61 L215.7,209.65 L216.2,209.68 L216.7,209.71" fill="none" stroke="#f06a6a" stroke-width="0.75"/>
<path d="M193.2,208.65 L193.7,208.68 L194.2,208.7 L194.7,208.72 L195.2,208.73 L195.7,208.75 L196.2,208.77 L196.7,208.78 L197.2,208.79 L197.7,208.79 L198.2,208.78 L198.7,208.76 L199.2,208.73 L199.7,208.68 L200.2,208.61 L200.7,208.51 L201.2,208.38 L201.7,208.21 L202.2,208 L202.7,207.74 L203.2,207.44 L203.7,207.09 L204.2,206.69 L204.7,206.24 L205.2,205.77 L205.7,205.27 L206.2,204.76 L206.7,204.26 L207.2,203.78 L207.7,203.35 L208.2,202.98 L208.7,202.69 L209.2,202.49 L209.7,202.39 L210.2,202.4 L210.7,202.52 L211.2,202.74 L211.7,203.06 L212.2,203.46 L212.7,203.93 L213.2,204.44 L213.7,204.98 L214.2,205.53 L214.7,206.08 L215.2,206.61 L215.7,207.11 L216.2,207.57 L216.7,207.99 L217.2,208.36 L217.7,208.68 L218.2,208.96 L218.7,209.19 L219.2,209.38 L219.7,209.54 L220.2,209.68 L220.7,209.78 L221.2,209.87 L221.7,209.95 L222.2,210.01 L222.7,210.07 L223.2,210.12 L223.7,210.16 L224.2,210.2 L224.7,210.24 L225.2,210.27 L225.7,210.31 L226.2,210.34 L226.7,210.38" fill="none" stroke="#f06a6a" stroke-width="0.75"/>
<path d="M207.2,209.26 L207.7,209.28 L208.2,209.3 L208.7,209.32 L209.2,209.33 L209.7,209.34 L210.2,209.34 L210.7,209.32 L211.2,209.29 L211.7,209.22 L212.2,209.12 L212.7,208.95 L213.2,208.72 L213.7,208.4 L214.2,207.99 L214.7,207.47 L215.2,206.84 L215.7,206.11 L216.2,205.3 L216.7,204.44 L217.2,203.56 L217.7,202.74 L218.2,202.01 L218.7,201.43 L219.2,201.06 L219.7,200.92 L220.2,201.03 L220.7,201.38 L221.2,201.94 L221.7,202.68 L222.2,203.54 L222.7,204.47 L223.2,205.41 L223.7,206.31 L224.2,207.14 L224.7,207.88 L225.2,208.5 L225.7,209.01 L226.2,209.42 L226.7,209.74 L227.2,209.98 L227.7,210.17 L228.2,210.3 L228.7,210.4 L229.2,210.48 L229.7,210.54 L230.2,210.59 L230.7,210.63 L231.2,210.67 L231.7,210.71 L232.2,210.74" fill="none" stroke="#4a58c8" stroke-width="0.75"/>
<path d="M207.38,209.27 L207.88,209.29 L208.38,209.31 L208.88,209.32 L209.38,209.34 L209.88,209.35 L210.38,209.35 L210.88,209.34 L211.38,209.32 L211.88,209.28 L212.38,209.21 L212.88,209.1 L213.38,208.94 L213.88,208.73 L214.38,208.43 L214.88,208.05 L215.38,207.57 L215.88,206.99 L216.38,206.27 L216.88,205.44 L217.38,204.48 L217.88,203.43 L218.38,202.29 L218.88,201.11 L219.38,199.93 L219.88,198.8 L220.38,197.77 L220.88,196.89 L221.38,196.21 L221.88,195.77 L222.38,195.6 L222.88,195.71 L223.38,196.09 L223.88,196.72 L224.38,197.57 L224.88,198.61 L225.38,199.76 L225.88,200.99 L226.38,202.25 L226.88,203.47 L227.38,204.64 L227.88,205.71 L228.38,206.67 L228.88,207.51 L229.38,208.22 L229.88,208.82 L230.38,209.3 L230.88,209.69 L231.38,210 L231.88,210.24 L232.38,210.42 L232.88,210.56 L233.38,210.67 L233.88,210.76 L234.38,210.83 L234.88,210.89 L235.38,210.93 L235.88,210.98 L236.38,211.02 L236.88,211.05 L237.38,211.09" fill="none" stroke="#78c078" stroke-width="0.75"/>
<path d="M215.4,209.63 L215.9,209.66 L216.4,209.69 L216.9,209.72 L217.4,209.74 L217.9,209.77 L218.4,209.78 L218.9,209.78 L219.4,209.76 L219.9,209.72 L220.4,209.64 L220.9,209.51 L221.4,209.32 L221.9,209.05 L222.4,208.69 L222.9,208.24 L223.4,207.69 L223.9,207.05 L224.4,206.33 L224.9,205.57 L225.4,204.8 L225.9,204.07 L226.4,203.42 L226.9,202.91 L227.4,202.59 L227.9,202.46 L228.4,202.56 L228.9,202.88 L229.4,203.39 L229.9,204.05 L230.4,204.82 L230.9,205.65 L231.4,206.48 L231.9,207.29 L232.4,208.03 L232.9,208.69 L233.4,209.24 L233.9,209.7 L234.4,210.07 L234.9,210.36 L235.4,210.58 L235.9,210.74 L236.4,210.87 L236.9,210.96 L237.4,211.03 L237.9,211.09 L238.4,211.14 L238.9,211.18 L239.4,211.22 L239.9,211.26 L240.4,211.29" fill="none" stroke="#78c078" stroke-width="0.75"/>
<path d="M216.15,209.67 L216.65,209.7 L217.15,209.73 L217.65,209.76 L218.15,209.78 L218.65,209.78 L219.15,209.77 L219.65,209.73 L220.15,209.66 L220.65,209.52 L221.15,209.3 L221.65,208.98 L222.15,208.52 L222.65,207.9 L223.15,207.08 L223.65,206.05 L224.15,204.81 L224.65,203.37 L225.15,201.76 L225.65,200.05 L226.15,198.32 L226.65,196.68 L227.15,195.23 L227.65,194.08 L228.15,193.32 L228.65,193.02 L229.15,193.2 L229.65,193.85 L230.15,194.92 L230.65,196.32 L231.15,197.97 L231.65,199.74 L232.15,201.54 L232.65,203.26 L233.15,204.84 L233.65,206.23 L234.15,207.41 L234.65,208.38 L235.15,209.15 L235.65,209.73 L236.15,210.17 L236.65,210.5 L237.15,210.73 L237.65,210.9 L238.15,211.01 L238.65,211.1 L239.15,211.17 L239.65,211.22 L240.15,211.26 L240.65,211.3 L241.15,211.34" fill="none" stroke="#4a58c8" stroke-width="0.75"/>
<path d="M122.5,207.12 L123.2,208.01 L123.9,207.77 L124.6,206.9 L125.3,207.64 L126,207.29 L126.7,207.27 L127.4,207.21 L128.1,207 L128.8,206.79 L129.5,207.11 L130.2,207.19 L130.9,207.91 L131.6,206.9 L132.3,207.9 L133,206.98 L133.7,207.14 L134.4,207.69 L135.1,207.68 L135.8,207.2 L136.5,206.72 L137.2,207.22 L137.9,207.08 L138.6,207.72 L139.3,206.83 L140,207.02 L140.7,207.64 L141.4,206.58 L142.1,207.01 L142.8,207.46 L143.5,207.38 L144.2,206.48 L144.9,206.45 L145.6,206.45 L146.3,207.44 L147,206.6 L147.7,207.14 L148.4,207.27 L149.1,206.55 L149.8,206.41 L150.5,207.18 L151.2,206.71 L151.9,206.22 L152.6,206.7 L153.3,206.16 L154,206.05 L154.7,205.66 L155.4,206.5 L156.1,206.62 L156.8,206.22 L157.5,206.53 L158.2,205.37 L158.9,205.57 L159.6,205.8 L160.3,206.33 L161,206.26 L161.7,205.52 L162.4,205.29 L163.1,205.43 L163.8,205.45 L164.5,205.91 L165.2,204.97 L165.9,205.67 L166.6,205.57 L167.3,205.67 L168,205.63 L168.7,205.46 L169.4,205.17 L170.1,205.22 L170.8,205.34 L171.5,205.93 L172.2,205.17 L172.9,205.4 L173.6,206.17 L174.3,205.66 L175,205.54 L175.7,205.61 L176.4,206.34 L177.1,206.17 L177.8,207.05 L178.5,207.03 L179.2,207.28 L179.9,206.54 L180.6,206.47 L181.3,206.62 L182,207.24 L182.7,207.62 L183.4,207.4 L184.1,207.23 L184.8,207.49 L185.5,207.74 L186.2,207.76 L186.9,207.76 L187.6,207.75 L188.3,207.39 L189,206.58 L189.7,207.28 L190.4,206.46 L191.1,206.64 L191.8,206.24 L192.5,206.51 L193.2,205.68 L193.9,205.54 L194.6,205.31 L195.3,204.95 L196,205.53 L196.7,204.85 L197.4,204.22 L198.1,203.94 L198.8,204.26 L199.5,203.25 L200.2,202.46 L200.9,202.65 L201.6,201.91 L202.3,201.73 L203,200.03 L203.7,199.81" fill="none" stroke="#6a6a6a" stroke-width="1.0" stroke-linejoin="round"/>
<path d="M199.5,203.25 L200.2,202.46 L200.9,202.65 L201.6,201.91 L202.3,201.73 L203,200.03 L203.7,199.81 L204.4,199.52 L205.1,198.8 L205.8,198.12 L206.5,196.26 L207.2,195.7 L207.9,194.56 L208.6,193.68 L209.3,193.61 L210,192.1 L210.7,191.39 L211.4,189.51 L212.1,188.86 L212.8,187.17 L213.5,185.86 L214.2,185.46 L214.9,184.69 L215.6,182.77 L216.3,182.54 L217,181.84 L217.7,180.74 L218.4,180.39 L219.1,179.63 L219.8,179.25 L220.5,178.92 L221.2,179 L221.9,178.81 L222.6,178.07 L223.3,177.67 L224,177.94 L224.7,178.37 L225.4,177.91 L226.1,178.38 L226.8,178.94 L227.5,181 L228.2,182.68 L228.9,184.23 L229.6,186.47 L230.3,189.18 L231,191.92 L231.7,194.76 L232.4,196.65 L233.1,199.04 L233.8,201.72 L234.5,203.04 L235.2,204.25 L235.9,205.47 L236.6,207.32 L237.3,207.49 L238,208.58 L238.7,208.97 L239.4,209.56 L240.1,210.5 L240.8,210.95 L241.5,210.44 L242.2,210.45 L242.9,211.26 L243.6,210.79 L244.3,210.68 L245,211.88 L245.7,211.42 L246.4,211.98 L247.1,211.56 L247.8,212.2 L248.5,211.75 L249.2,211.44 L249.9,211.32 L250.6,212.02" fill="none" stroke="#8c8c8c" stroke-width="2.7" stroke-linejoin="round" stroke-linecap="round"/>
<path d="M122.5,207.5 C126.25,207.42 138.75,207.28 145,207 C151.25,206.72 156.17,206.08 160,205.8 C163.83,205.52 165,205.18 168,205.3 C171,205.42 175.17,206.12 178,206.5 C180.83,206.88 183,207.55 185,207.6 C187,207.65 188.22,207.2 190,206.8 C191.78,206.4 193.87,205.97 195.7,205.2 C197.53,204.43 199.28,203.5 201,202.2 C202.72,200.9 204.5,199.1 206,197.4 C207.5,195.7 208.8,193.8 210,192 C211.2,190.2 212.12,188.23 213.2,186.6 C214.28,184.97 215.45,183.33 216.5,182.2 C217.55,181.07 218.58,180.4 219.5,179.8 C220.42,179.2 221.08,178.87 222,178.6 C222.92,178.33 224.17,178.03 225,178.2 C225.83,178.37 226.38,178.58 227,179.6 C227.62,180.62 228.17,182.57 228.75,184.3 C229.33,186.03 229.91,187.92 230.5,190 C231.09,192.08 231.72,194.8 232.3,196.8 C232.88,198.8 233.4,200.52 234,202 C234.6,203.48 235.23,204.62 235.9,205.7 C236.57,206.78 237.25,207.75 238,208.5 C238.75,209.25 239.23,209.72 240.4,210.2 C241.57,210.68 243.23,211.1 245,211.4 C246.77,211.7 250,211.9 251,212" fill="none" stroke="#333" stroke-width="0.5" stroke-dasharray="0.8 1.6"/>
<text x="123.2" y="190.5" font-size="11" fill="#222" font-family="'Liberation Sans', Arial, sans-serif" stroke="#222" stroke-width="0.15">E</text>
<line x1="122" y1="179.5" x2="253" y2="179.5" stroke="#6a6a6a" stroke-width="0.8"/>
<path d="M122.5,241.75 C127.08,241.84 141.25,242.09 150,242.3 C158.75,242.51 168.75,242.84 175,243 C181.25,243.16 183.83,243.3 187.5,243.25 C191.17,243.2 193.67,243.06 197,242.7 C200.33,242.34 204.85,241.82 207.5,241.1 C210.15,240.38 211.42,239.9 212.9,238.4 C214.38,236.9 215.37,234.18 216.4,232.1 C217.43,230.02 218.2,227.23 219.1,225.9 C220,224.57 220.9,224.58 221.8,224.1 C222.7,223.62 223.47,224.35 224.5,223 C225.53,221.65 226.97,217.75 228,216 C229.03,214.25 229.8,211.9 230.7,212.5 C231.6,213.1 232.65,216.33 233.4,219.6 C234.15,222.87 234.6,228.62 235.2,232.1 C235.8,235.58 236.2,238.77 237,240.5 C237.8,242.23 237.67,242.08 240,242.5 C242.33,242.92 249.17,242.92 251,243" fill="none" stroke="#6878cc" stroke-width="1.2"/>
<text x="123.5" y="226.5" font-size="11.2" fill="#4a5ab0" font-family="'Liberation Sans', Arial, sans-serif" stroke="#4a5ab0" stroke-width="0.15">MgS</text>
<line x1="208.3" y1="26" x2="208.3" y2="248" stroke="#e8262c" stroke-width="1.3"/>
<line x1="223.6" y1="29.5" x2="223.6" y2="248" stroke="#3dae3d" stroke-width="1.3"/>
<line x1="230.6" y1="29.5" x2="230.6" y2="248" stroke="#2d3da6" stroke-width="1.3"/>
<text x="205.8" y="22.7" font-size="8.6" fill="#e8262c" font-family="'Liberation Sans', Arial, sans-serif" text-anchor="start">S</text>
<text x="213.8" y="22.7" font-size="8.6" fill="#3dae3d" font-family="'Liberation Sans', Arial, sans-serif">MgS<tspan font-size="5.2" dy="1.8">x</tspan></text>
<text x="235" y="22.7" font-size="8.6" fill="#2d3da6" font-family="'Liberation Sans', Arial, sans-serif" text-anchor="start">MgS</text>
<line x1="122.3" y1="248" x2="251.1" y2="248" stroke="#333" stroke-width="0.8"/>
<line x1="122.3" y1="245.8" x2="122.3" y2="248" stroke="#333" stroke-width="0.7"/>
<text x="122.3" y="254.6" font-size="6.2" fill="#222" font-family="'Liberation Sans', Arial, sans-serif" text-anchor="middle" stroke="#222" stroke-width="0.3">174</text>
<line x1="130.35" y1="246.7" x2="130.35" y2="248" stroke="#333" stroke-width="0.7"/>
<line x1="138.4" y1="245.8" x2="138.4" y2="248" stroke="#333" stroke-width="0.7"/>
<text x="138.4" y="254.6" font-size="6.2" fill="#222" font-family="'Liberation Sans', Arial, sans-serif" text-anchor="middle" stroke="#222" stroke-width="0.3">172</text>
<line x1="146.45" y1="246.7" x2="146.45" y2="248" stroke="#333" stroke-width="0.7"/>
<line x1="154.5" y1="245.8" x2="154.5" y2="248" stroke="#333" stroke-width="0.7"/>
<text x="154.5" y="254.6" font-size="6.2" fill="#222" font-family="'Liberation Sans', Arial, sans-serif" text-anchor="middle" stroke="#222" stroke-width="0.3">170</text>
<line x1="162.55" y1="246.7" x2="162.55" y2="248" stroke="#333" stroke-width="0.7"/>
<line x1="170.6" y1="245.8" x2="170.6" y2="248" stroke="#333" stroke-width="0.7"/>
<text x="170.6" y="254.6" font-size="6.2" fill="#222" font-family="'Liberation Sans', Arial, sans-serif" text-anchor="middle" stroke="#222" stroke-width="0.3">168</text>
<line x1="178.65" y1="246.7" x2="178.65" y2="248" stroke="#333" stroke-width="0.7"/>
<line x1="186.7" y1="245.8" x2="186.7" y2="248" stroke="#333" stroke-width="0.7"/>
<text x="186.7" y="254.6" font-size="6.2" fill="#222" font-family="'Liberation Sans', Arial, sans-serif" text-anchor="middle" stroke="#222" stroke-width="0.3">166</text>
<line x1="194.75" y1="246.7" x2="194.75" y2="248" stroke="#333" stroke-width="0.7"/>
<line x1="202.8" y1="245.8" x2="202.8" y2="248" stroke="#333" stroke-width="0.7"/>
<text x="202.8" y="254.6" font-size="6.2" fill="#222" font-family="'Liberation Sans', Arial, sans-serif" text-anchor="middle" stroke="#222" stroke-width="0.3">164</text>
<line x1="210.85" y1="246.7" x2="210.85" y2="248" stroke="#333" stroke-width="0.7"/>
<line x1="218.9" y1="245.8" x2="218.9" y2="248" stroke="#333" stroke-width="0.7"/>
<text x="218.9" y="254.6" font-size="6.2" fill="#222" font-family="'Liberation Sans', Arial, sans-serif" text-anchor="middle" stroke="#222" stroke-width="0.3">162</text>
<line x1="226.95" y1="246.7" x2="226.95" y2="248" stroke="#333" stroke-width="0.7"/>
<line x1="235" y1="245.8" x2="235" y2="248" stroke="#333" stroke-width="0.7"/>
<text x="235" y="254.6" font-size="6.2" fill="#222" font-family="'Liberation Sans', Arial, sans-serif" text-anchor="middle" stroke="#222" stroke-width="0.3">160</text>
<line x1="243.05" y1="246.7" x2="243.05" y2="248" stroke="#333" stroke-width="0.7"/>
<line x1="251.1" y1="245.8" x2="251.1" y2="248" stroke="#333" stroke-width="0.7"/>
<text x="251.1" y="254.6" font-size="6.2" fill="#222" font-family="'Liberation Sans', Arial, sans-serif" text-anchor="middle" stroke="#222" stroke-width="0.3">158</text>
<text x="185.5" y="264.8" font-size="6.4" fill="#222" font-family="'Liberation Sans', Arial, sans-serif" text-anchor="middle" stroke="#222" stroke-width="0.25">BE (eV)</text>
<text x="260" y="15.8" font-size="15" fill="#111" font-family="'Liberation Serif', 'Times New Roman', serif" text-anchor="start" font-weight="bold">(b)</text>
<line x1="272.6" y1="27" x2="272.6" y2="256" stroke="#e0607a" stroke-width="0.8" stroke-dasharray="1.1 1.3"/>
<line x1="290.4" y1="33.6" x2="290.4" y2="256" stroke="#b050c8" stroke-width="0.8" stroke-dasharray="1.1 1.3"/>
<line x1="301.1" y1="50" x2="301.1" y2="256" stroke="#5a5ac8" stroke-width="0.8" stroke-dasharray="1.1 1.3"/>
<line x1="311.9" y1="61" x2="311.9" y2="256" stroke="#40c0d0" stroke-width="0.8" stroke-dasharray="1.1 1.3"/>
<text x="265.4" y="25.6" font-size="4.7" fill="#e04a5a" font-family="'Liberation Sans', Arial, sans-serif">Mg-S (MgS<tspan font-size="3.2" dy="1.1">2</tspan><tspan dy="-1.1">, MgS)</tspan></text>
<text x="283.6" y="32.2" font-size="4.7" fill="#b040c0" font-family="'Liberation Sans', Arial, sans-serif">Mg-S (MgS<tspan font-size="3.2" dy="1.1">x</tspan><tspan dy="-1.1">)</tspan></text>
<text x="295.1" y="41.5" font-size="4.7" fill="#c03aa0" font-family="'Liberation Sans', Arial, sans-serif">S-S (MgS<tspan font-size="3.2" dy="1.1">x</tspan><tspan dy="-1.1">)</tspan></text>
<text x="302" y="49.2" font-size="4.7" fill="#333" font-family="'Liberation Sans', Arial, sans-serif">S-S (S<tspan font-size="3.2" dy="1.1">8</tspan><tspan dy="-1.1">)</tspan></text>
<text x="317" y="59.9" font-size="4.7" fill="#333" font-family="'Liberation Sans', Arial, sans-serif">PP<tspan font-size="3.2" dy="1.1">14</tspan><tspan dy="-1.1">TFSI</tspan></text>
<text x="313" y="69.5" font-size="4.7" fill="#333" font-family="'Liberation Sans', Arial, sans-serif">S-S (S<tspan font-size="3.2" dy="1.1">8</tspan><tspan dy="-1.1">)</tspan></text>
<text x="317" y="89" font-size="4.7" fill="#333" font-family="'Liberation Sans', Arial, sans-serif" text-anchor="start">As-prepared</text>
<text x="316.5" y="117.4" font-size="4.7" fill="#333" font-family="'Liberation Sans', Arial, sans-serif" text-anchor="start">Discharge</text>
<text x="316.5" y="123.6" font-size="4.7" fill="#333" font-family="'Liberation Sans', Arial, sans-serif" text-anchor="start">to 1.3 V</text>
<text x="316.3" y="155" font-size="4.7" fill="#333" font-family="'Liberation Sans', Arial, sans-serif" text-anchor="start">Discharge</text>
<text x="316.3" y="160.8" font-size="4.7" fill="#333" font-family="'Liberation Sans', Arial, sans-serif" text-anchor="start">to 0.5 V</text>
<text x="317.5" y="214.3" font-size="4.7" fill="#333" font-family="'Liberation Sans', Arial, sans-serif" text-anchor="start">Charge</text>
<text x="317.5" y="219.6" font-size="4.7" fill="#333" font-family="'Liberation Sans', Arial, sans-serif" text-anchor="start">to 2.6 V</text>
<text x="262.3" y="75.3" font-size="11" fill="#333" font-family="'Liberation Serif', 'Times New Roman', serif" text-anchor="start" stroke="#333" stroke-width="0.35">i</text>
<text x="261.8" y="111.8" font-size="11" fill="#333" font-family="'Liberation Serif', 'Times New Roman', serif" text-anchor="start" stroke="#333" stroke-width="0.35">ii</text>
<text x="261.8" y="139.8" font-size="11" fill="#333" font-family="'Liberation Serif', 'Times New Roman', serif" text-anchor="start" stroke="#333" stroke-width="0.35">iii</text>
<text x="262" y="189.8" font-size="11" fill="#333" font-family="'Liberation Serif', 'Times New Roman', serif" text-anchor="start" stroke="#333" stroke-width="0.35">iv</text>
<text x="262.3" y="242.3" font-size="11" fill="#333" font-family="'Liberation Serif', 'Times New Roman', serif" text-anchor="start" stroke="#333" stroke-width="0.35">v</text>
<path d="M328.63,76.51 L329.13,76.5 L329.63,76.49 L330.13,76.46 L330.63,76.42 L331.13,76.37 L331.63,76.27 L332.13,76.14 L332.63,75.93 L333.13,75.64 L333.63,75.21 L334.13,74.61 L334.63,73.79 L335.13,72.68 L335.63,71.22 L336.13,69.35 L336.63,67.01 L337.13,64.13 L337.63,60.68 L338.13,56.67 L338.63,52.1 L339.13,47.06 L339.63,41.66 L340.13,36.05 L340.63,30.44 L341.13,25.05 L341.63,20.12 L342.13,15.91 L342.63,12.62 L343.13,10.44 L343.63,9.49 L344.13,9.82 L344.63,11.42 L345.13,14.19 L345.63,17.98 L346.13,22.59 L346.63,27.78 L347.13,33.31 L347.63,38.95 L348.13,44.47 L348.63,49.69 L349.13,54.49 L349.63,58.77 L350.13,62.48 L350.63,65.63 L351.13,68.22 L351.63,70.31 L352.13,71.95 L352.63,73.21 L353.13,74.16 L353.63,74.85 L354.13,75.35 L354.63,75.7 L355.13,75.94 L355.63,76.1 L356.13,76.21 L356.63,76.28 L357.13,76.32 L357.63,76.34 L358.13,76.36 L358.63,76.36" fill="none" stroke="#bcbce2" stroke-width="1.05"/>
<path d="M337.2,76.48 L337.7,76.47 L338.2,76.46 L338.7,76.45 L339.2,76.44 L339.7,76.42 L340.2,76.39 L340.7,76.34 L341.2,76.28 L341.7,76.18 L342.2,76.06 L342.7,75.88 L343.2,75.64 L343.7,75.32 L344.2,74.91 L344.7,74.37 L345.2,73.69 L345.7,72.84 L346.2,71.81 L346.7,70.57 L347.2,69.12 L347.7,67.46 L348.2,65.59 L348.7,63.54 L349.2,61.33 L349.7,59.03 L350.2,56.68 L350.7,54.36 L351.2,52.15 L351.7,50.13 L352.2,48.39 L352.7,47 L353.2,46.02 L353.7,45.49 L354.2,45.44 L354.7,45.87 L355.2,46.76 L355.7,48.07 L356.2,49.74 L356.7,51.7 L357.2,53.87 L357.7,56.17 L358.2,58.52 L358.7,60.83 L359.2,63.06 L359.7,65.14 L360.2,67.05 L360.7,68.75 L361.2,70.23 L361.7,71.5 L362.2,72.57 L362.7,73.45 L363.2,74.16 L363.7,74.72 L364.2,75.15 L364.7,75.48 L365.2,75.73 L365.7,75.91 L366.2,76.05 L366.7,76.14 L367.2,76.2 L367.7,76.25 L368.2,76.28 L368.7,76.29 L369.2,76.3 L369.7,76.31 L370.2,76.31 L370.7,76.32" fill="none" stroke="#bcbce2" stroke-width="1.05"/>
<path d="M270,76.8 L375,76.3" fill="none" stroke="#9a9ad6" stroke-width="1.0"/>
<path d="M300,76.5 C302.5,76.42 311.43,76.33 315,76 C318.57,75.67 319.25,75.07 321.4,74.5 C323.55,73.93 326.22,73.27 327.9,72.6 C329.58,71.93 330.48,71.38 331.5,70.5 C332.52,69.62 333.13,69.05 334,67.3 C334.87,65.55 335.9,63.38 336.7,60 C337.5,56.62 338.15,52 338.8,47 C339.45,42 340.02,35.33 340.6,30 C341.18,24.67 341.78,18.53 342.3,15 C342.82,11.47 343.17,8.97 343.7,8.8 C344.23,8.63 344.87,11.3 345.5,14 C346.13,16.7 346.83,21.92 347.5,25 C348.17,28.08 348.83,30.63 349.5,32.5 C350.17,34.37 350.92,35.35 351.5,36.2 C352.08,37.05 352.42,36.22 353,37.6 C353.58,38.98 354.25,41.43 355,44.5 C355.75,47.57 356.67,52.58 357.5,56 C358.33,59.42 359.17,62.45 360,65 C360.83,67.55 361.67,69.8 362.5,71.3 C363.33,72.8 364.17,73.35 365,74 C365.83,74.65 365.83,74.82 367.5,75.2 C369.17,75.58 373.75,76.12 375,76.3" fill="none" stroke="#222" stroke-width="1.0" stroke-dasharray="2.2 1.2"/>
<path d="M289.07,115.03 L289.57,115 L290.07,114.96 L290.57,114.87 L291.07,114.76 L291.57,114.6 L292.07,114.37 L292.57,114.03 L293.07,113.51 L293.57,112.75 L294.07,111.65 L294.57,110.11 L295.07,107.99 L295.57,105.19 L296.07,101.61 L296.57,97.21 L297.07,92 L297.57,86.08 L298.07,79.66 L298.57,73.04 L299.07,66.6 L299.57,60.78 L300.07,55.99 L300.57,52.57 L301.07,50.85 L301.57,50.99 L302.07,52.95 L302.57,56.56 L303.07,61.49 L303.57,67.36 L304.07,73.72 L304.57,80.14 L305.07,86.27 L305.57,91.84 L306.07,96.65 L306.57,100.65 L307.07,103.82 L307.57,106.25 L308.07,108.02 L308.57,109.25 L309.07,110.07 L309.57,110.58 L310.07,110.86 L310.57,110.99 L311.07,111.02 L311.57,110.98 L312.07,110.9 L312.57,110.79 L313.07,110.68" fill="none" stroke="#70d0dc" stroke-width="1.05"/>
<path d="M298.78,114.12 L299.28,114.06 L299.78,114.01 L300.28,113.9 L300.78,113.75 L301.28,113.58 L301.78,113.39 L302.28,113.15 L302.78,112.86 L303.28,112.47 L303.78,111.96 L304.28,111.29 L304.78,110.42 L305.28,109.29 L305.78,107.85 L306.28,106.08 L306.78,103.95 L307.28,101.47 L307.78,98.68 L308.28,95.66 L308.78,92.52 L309.28,89.4 L309.78,86.48 L310.28,83.94 L310.78,81.93 L311.28,80.6 L311.78,80.03 L312.28,80.27 L312.78,81.28 L313.28,82.98 L313.78,85.23 L314.28,87.87 L314.78,90.72 L315.28,93.61 L315.78,96.39 L316.28,98.94 L316.78,101.19 L317.28,103.09 L317.78,104.63 L318.28,105.89 L318.78,106.89 L319.28,107.62 L319.78,108.14 L320.28,108.5 L320.78,108.73 L321.28,108.88 L321.78,108.96 L322.28,108.99 L322.78,109 L323.28,108.99 L323.78,108.97 L324.28,108.94 L324.78,108.91" fill="none" stroke="#70d0dc" stroke-width="1.05"/>
<path d="M295,115.7 C296.67,115.52 301.67,115.25 305,114.6 C308.33,113.95 311.67,112.68 315,111.8 C318.33,110.92 321.5,109.87 325,109.3 C328.5,108.73 334.17,108.55 336,108.4" fill="none" stroke="#a8a8a8" stroke-width="0.8"/>
<path d="M272,115.7 C275,115.58 285.33,115.28 290,115 C294.67,114.72 296.67,114.58 300,114 C303.33,113.42 307,112.27 310,111.5 C313,110.73 315.5,109.83 318,109.4 C320.5,108.97 321.33,108.83 325,108.9 C328.67,108.97 334.17,109.45 340,109.8 C345.83,110.15 354.17,110.63 360,111 C365.83,111.37 372.5,111.83 375,112" fill="none" stroke="#178a8a" stroke-width="1.3"/>
<path d="M272,115.7 C273.33,115.58 277.53,115.55 280,115 C282.47,114.45 285.3,113.4 286.8,112.4 C288.3,111.4 288.22,110.73 289,109 C289.78,107.27 290.67,105.17 291.5,102 C292.33,98.83 293.08,95.33 294,90 C294.92,84.67 296.08,76 297,70 C297.92,64 298.79,57.53 299.5,54 C300.21,50.47 300.67,48.97 301.25,48.8 C301.83,48.63 302.38,50.63 303,53 C303.62,55.37 304.33,60.27 305,63 C305.67,65.73 306.33,68.2 307,69.4 C307.67,70.6 308.38,69.93 309,70.2 C309.62,70.47 310.05,70.03 310.7,71 C311.35,71.97 312.27,74 312.9,76 C313.53,78 313.98,80.83 314.5,83 C315.02,85.17 315.35,86.33 316,89 C316.65,91.67 317.57,96.42 318.4,99 C319.23,101.58 319.9,103.03 321,104.5 C322.1,105.97 323.5,107.08 325,107.8 C326.5,108.52 327.5,108.47 330,108.8 C332.5,109.13 335,109.43 340,109.8 C345,110.17 354.17,110.63 360,111 C365.83,111.37 372.5,111.83 375,112" fill="none" stroke="#1a1a1a" stroke-width="0.85"/>
<path d="M272.08,116.52h0.01M273.25,115.84h0.01M274.92,115.54h0.01M276.29,115.02h0.01M278.01,116.18h0.01M279.27,115.08h0.01M281.18,115.7h0.01M282.32,113.62h0.01M284.27,114.81h0.01M285.49,112.28h0.01M287.26,112.02h0.01M288.74,110.29h0.01M290.19,105.97h0.01M291.67,101.44h0.01M292.94,96.1h0.01M294.7,86.32h0.01M295.83,76.6h0.01M297.51,66.41h0.01M298.77,56.23h0.01M300.63,50.8h0.01M301.72,49.81h0.01M303.65,54.32h0.01M305.2,62.24h0.01M306.56,68.38h0.01M308.08,69.75h0.01M309.45,70.49h0.01M310.96,71.79h0.01M312.47,74.68h0.01M313.71,80.96h0.01M315.49,86.47h0.01M317.16,93.96h0.01M318.47,98.66h0.01M319.98,102.13h0.01M321.28,104.99h0.01M322.76,106.46h0.01M324.51,106.63h0.01M326.08,107.35h0.01M327.64,109.07h0.01M329.01,107.8h0.01M330.5,108.62h0.01M332.27,108.32h0.01M333.71,110.21h0.01M335.14,110h0.01M336.32,110.48h0.01M338,110.56h0.01M339.75,109.09h0.01M341.17,110.73h0.01M342.24,109.68h0.01M344.15,109.39h0.01M345.74,109.72h0.01M347.19,109.54h0.01M348.5,111.18h0.01M349.82,109.95h0.01M351.5,110.15h0.01M352.72,109.96h0.01M354.3,111.55h0.01M356.11,111.55h0.01M357.3,111.42h0.01M358.77,111h0.01M360.58,110.75h0.01M362.22,111.24h0.01M363.55,111.99h0.01M364.76,112.31h0.01M366.58,111.21h0.01M368.18,111.06h0.01M369.79,111.78h0.01M370.92,112.26h0.01M372.47,111.19h0.01M374.15,111.03h0.01" stroke="#111" stroke-width="1.15" stroke-linecap="round"/>
<path d="M272.96,139.6 L273.46,139.6 L273.96,139.6 L274.46,139.6 L274.96,139.6 L275.46,139.59 L275.96,139.59 L276.46,139.57 L276.96,139.55 L277.46,139.53 L277.96,139.5 L278.46,139.47 L278.96,139.43 L279.46,139.38 L279.96,139.32 L280.46,139.25 L280.96,139.16 L281.46,139.05 L281.96,138.91 L282.46,138.76 L282.96,138.57 L283.46,138.36 L283.96,138.12 L284.46,137.85 L284.96,137.56 L285.46,137.24 L285.96,136.91 L286.46,136.58 L286.96,136.24 L287.46,135.92 L287.96,135.62 L288.46,135.35 L288.96,135.12 L289.46,134.94 L289.96,134.81 L290.46,134.75 L290.96,134.75 L291.46,134.82 L291.96,134.94 L292.46,135.12 L292.96,135.35 L293.46,135.61 L293.96,135.9 L294.46,136.2 L294.96,136.51 L295.46,136.82 L295.96,137.12 L296.46,137.4 L296.96,137.66 L297.46,137.89 L297.96,138.1 L298.46,138.27 L298.96,138.42 L299.46,138.54 L299.96,138.64 L300.46,138.72 L300.96,138.78 L301.46,138.82 L301.96,138.85 L302.46,138.88 L302.96,138.89 L303.46,138.89 L303.96,138.89 L304.46,138.89 L304.96,138.88 L305.46,138.88 L305.96,138.87 L306.46,138.86 L306.96,138.85 L307.46,138.84 L307.96,138.82" fill="none" stroke="#c03aa0" stroke-width="1.05"/>
<path d="M279,139.53 L279.5,139.51 L280,139.5 L280.5,139.49 L281,139.48 L281.5,139.46 L282,139.45 L282.5,139.44 L283,139.42 L283.5,139.41 L284,139.39 L284.5,139.37 L285,139.35 L285.5,139.33 L286,139.31 L286.5,139.28 L287,139.25 L287.5,139.21 L288,139.17 L288.5,139.12 L289,139.06 L289.5,139 L290,138.92 L290.5,138.84 L291,138.74 L291.5,138.63 L292,138.52 L292.5,138.39 L293,138.25 L293.5,138.1 L294,137.95 L294.5,137.79 L295,137.62 L295.5,137.46 L296,137.3 L296.5,137.15 L297,137 L297.5,136.87 L298,136.76 L298.5,136.66 L299,136.59 L299.5,136.54 L300,136.52 L300.5,136.52 L301,136.54 L301.5,136.59 L302,136.66 L302.5,136.75 L303,136.86 L303.5,136.98 L304,137.11 L304.5,137.24 L305,137.38 L305.5,137.52 L306,137.66 L306.5,137.79 L307,137.91 L307.5,138.02 L308,138.13 L308.5,138.22 L309,138.31 L309.5,138.38 L310,138.44 L310.5,138.49 L311,138.53 L311.5,138.56 L312,138.59 L312.5,138.61 L313,138.62 L313.5,138.63 L314,138.63 L314.5,138.63 L315,138.63 L315.5,138.62 L316,138.62 L316.5,138.61 L317,138.6 L317.5,138.59 L318,138.58 L318.5,138.57 L319,138.56 L319.5,138.54 L320,138.53 L320.5,138.52 L321,138.51" fill="none" stroke="#8050c0" stroke-width="1.05"/>
<path d="M283.2,139.42 L283.7,139.41 L284.2,139.4 L284.7,139.38 L285.2,139.37 L285.7,139.35 L286.2,139.33 L286.7,139.3 L287.2,139.27 L287.7,139.22 L288.2,139.17 L288.7,139.1 L289.2,139 L289.7,138.88 L290.2,138.73 L290.7,138.53 L291.2,138.29 L291.7,137.99 L292.2,137.62 L292.7,137.19 L293.2,136.68 L293.7,136.1 L294.2,135.45 L294.7,134.74 L295.2,133.97 L295.7,133.17 L296.2,132.36 L296.7,131.56 L297.2,130.79 L297.7,130.09 L298.2,129.48 L298.7,128.99 L299.2,128.65 L299.7,128.46 L300.2,128.43 L300.7,128.56 L301.2,128.86 L301.7,129.29 L302.2,129.85 L302.7,130.51 L303.2,131.24 L303.7,132.02 L304.2,132.81 L304.7,133.59 L305.2,134.34 L305.7,135.04 L306.2,135.68 L306.7,136.25 L307.2,136.75 L307.7,137.17 L308.2,137.52 L308.7,137.81 L309.2,138.04 L309.7,138.22 L310.2,138.36 L310.7,138.46 L311.2,138.54 L311.7,138.59 L312.2,138.62 L312.7,138.64 L313.2,138.65 L313.7,138.66 L314.2,138.65 L314.7,138.65 L315.2,138.64 L315.7,138.63 L316.2,138.62 L316.7,138.61" fill="none" stroke="#3cc0d0" stroke-width="1.05"/>
<path d="M295.1,139.14 L295.6,139.12 L296.1,139.11 L296.6,139.1 L297.1,139.08 L297.6,139.07 L298.1,139.05 L298.6,139.03 L299.1,139.01 L299.6,138.98 L300.1,138.95 L300.6,138.91 L301.1,138.85 L301.6,138.79 L302.1,138.7 L302.6,138.6 L303.1,138.47 L303.6,138.32 L304.1,138.13 L304.6,137.9 L305.1,137.65 L305.6,137.35 L306.1,137.02 L306.6,136.66 L307.1,136.27 L307.6,135.86 L308.1,135.45 L308.6,135.04 L309.1,134.65 L309.6,134.29 L310.1,133.98 L310.6,133.73 L311.1,133.55 L311.6,133.45 L312.1,133.43 L312.6,133.49 L313.1,133.63 L313.6,133.85 L314.1,134.12 L314.6,134.44 L315.1,134.8 L315.6,135.18 L316.1,135.57 L316.6,135.96 L317.1,136.33 L317.6,136.67 L318.1,136.99 L318.6,137.26 L319.1,137.51 L319.6,137.71 L320.1,137.88 L320.6,138.02 L321.1,138.13 L321.6,138.21 L322.1,138.28 L322.6,138.32 L323.1,138.35 L323.6,138.37 L324.1,138.38 L324.6,138.39 L325.1,138.39 L325.6,138.38 L326.1,138.38 L326.6,138.37 L327.1,138.36 L327.6,138.35 L328.1,138.34 L328.6,138.32" fill="none" stroke="#3cc0d0" stroke-width="1.05"/>
<path d="M324.8,138.41 L325.3,138.4 L325.8,138.38 L326.3,138.36 L326.8,138.34 L327.3,138.32 L327.8,138.29 L328.3,138.26 L328.8,138.21 L329.3,138.16 L329.8,138.09 L330.3,138.01 L330.8,137.89 L331.3,137.75 L331.8,137.57 L332.3,137.35 L332.8,137.07 L333.3,136.72 L333.8,136.29 L334.3,135.77 L334.8,135.15 L335.3,134.41 L335.8,133.55 L336.3,132.55 L336.8,131.4 L337.3,130.1 L337.8,128.65 L338.3,127.05 L338.8,125.32 L339.3,123.46 L339.8,121.5 L340.3,119.47 L340.8,117.41 L341.3,115.34 L341.8,113.32 L342.3,111.38 L342.8,109.58 L343.3,107.96 L343.8,106.57 L344.3,105.44 L344.8,104.61 L345.3,104.09 L345.8,103.91 L346.3,104.07 L346.8,104.56 L347.3,105.37 L347.8,106.47 L348.3,107.84 L348.8,109.44 L349.3,111.21 L349.8,113.12 L350.3,115.12 L350.8,117.16 L351.3,119.21 L351.8,121.21 L352.3,123.15 L352.8,124.98 L353.3,126.69 L353.8,128.26 L354.3,129.69 L354.8,130.96 L355.3,132.09 L355.8,133.06 L356.3,133.9 L356.8,134.62 L357.3,135.21 L357.8,135.71 L358.3,136.11 L358.8,136.44 L359.3,136.69 L359.8,136.89 L360.3,137.05 L360.8,137.17 L361.3,137.25 L361.8,137.32 L362.3,137.36 L362.8,137.39 L363.3,137.41 L363.8,137.42 L364.3,137.42 L364.8,137.42 L365.3,137.42 L365.8,137.41 L366.3,137.4 L366.8,137.39" fill="none" stroke="#bcbce2" stroke-width="1.05"/>
<path d="M337,138.12 L337.5,138.11 L338,138.09 L338.5,138.08 L339,138.06 L339.5,138.04 L340,138.02 L340.5,138 L341,137.97 L341.5,137.94 L342,137.9 L342.5,137.85 L343,137.79 L343.5,137.71 L344,137.61 L344.5,137.5 L345,137.35 L345.5,137.17 L346,136.95 L346.5,136.68 L347,136.37 L347.5,135.99 L348,135.55 L348.5,135.05 L349,134.47 L349.5,133.81 L350,133.08 L350.5,132.27 L351,131.4 L351.5,130.47 L352,129.48 L352.5,128.46 L353,127.42 L353.5,126.38 L354,125.36 L354.5,124.39 L355,123.49 L355.5,122.67 L356,121.97 L356.5,121.4 L357,120.97 L357.5,120.71 L358,120.61 L358.5,120.68 L359,120.92 L359.5,121.32 L360,121.87 L360.5,122.55 L361,123.34 L361.5,124.22 L362,125.17 L362.5,126.16 L363,127.18 L363.5,128.2 L364,129.19 L364.5,130.15 L365,131.06 L365.5,131.91 L366,132.69 L366.5,133.4 L367,134.03 L367.5,134.59 L368,135.07 L368.5,135.48 L369,135.83 L369.5,136.13 L370,136.37 L370.5,136.56 L371,136.72 L371.5,136.84 L372,136.94 L372.5,137.01 L373,137.06 L373.5,137.1 L374,137.12 L374.5,137.14 L375,137.15" fill="none" stroke="#bcbce2" stroke-width="1.05"/>
<path d="M276,139.6 L375,137.2" fill="none" stroke="#7a3cb0" stroke-width="1.7"/>
<path d="M276,139 C276.83,138.77 279.2,138.33 281,137.6 C282.8,136.87 285.3,135.7 286.8,134.6 C288.3,133.5 288.9,132.27 290,131 C291.1,129.73 292.4,128.07 293.4,127 C294.4,125.93 295.1,125.15 296,124.6 C296.9,124.05 297.8,123.77 298.8,123.7 C299.8,123.63 300.73,123.83 302,124.2 C303.27,124.57 305.07,125.17 306.4,125.9 C307.73,126.63 308.9,127.68 310,128.6 C311.1,129.52 312,130.67 313,131.4 C314,132.13 314.92,132.55 316,133 C317.08,133.45 318.33,133.73 319.5,134.1 C320.67,134.47 321.83,135 323,135.2 C324.17,135.4 325.33,135.75 326.5,135.3 C327.67,134.85 328.92,133.8 330,132.5 C331.08,131.2 332,129.58 333,127.5 C334,125.42 335,122.67 336,120 C337,117.33 338,114.25 339,111.5 C340,108.75 341,105.7 342,103.5 C343,101.3 344.08,99.42 345,98.3 C345.92,97.18 346.67,96.75 347.5,96.8 C348.33,96.85 348.92,97.4 350,98.6 C351.08,99.8 352.67,101.93 354,104 C355.33,106.07 356.67,108.5 358,111 C359.33,113.5 360.67,116.42 362,119 C363.33,121.58 364.67,124.42 366,126.5 C367.33,128.58 368.5,130.17 370,131.5 C371.5,132.83 374.17,134 375,134.5" fill="none" stroke="#1a1a1a" stroke-width="0.85"/>
<path d="M276.19,138.51h0.01M277.58,139.59h0.01M279.05,138.58h0.01M280.39,136.8h0.01M281.72,136.49h0.01M283.57,136.39h0.01M285.01,136.55h0.01M286.28,134.27h0.01M288.09,132.49h0.01M289.2,131.31h0.01M290.76,129.53h0.01M292.33,128.18h0.01M294.05,125.77h0.01M295.57,124.9h0.01M296.78,124.97h0.01M298.35,123.03h0.01M299.76,124.02h0.01M301.72,124.62h0.01M302.94,124.03h0.01M304.21,125.31h0.01M306.04,125.39h0.01M307.59,126.49h0.01M309.26,128.23h0.01M310.35,129.85h0.01M311.73,130.6h0.01M313.44,131.22h0.01M314.74,133.12h0.01M316.21,133.3h0.01M318.26,132.95h0.01M319.32,134.32h0.01M321,134.91h0.01M322.69,134.44h0.01M323.89,134.99h0.01M325.23,136.29h0.01M327.17,135.51h0.01M328.2,134.74h0.01M330.15,132.43h0.01M331.65,130.24h0.01M332.84,126.71h0.01M334.34,123.05h0.01M335.9,120.5h0.01M337.62,116.47h0.01M339.13,111.03h0.01M340.53,107.17h0.01M342.17,103.55h0.01M343.36,100.82h0.01M345.28,97.73h0.01M346.73,96.04h0.01M347.86,96.39h0.01M349.65,98.95h0.01M351.15,99.43h0.01M352.73,101.43h0.01M353.84,104.82h0.01M355.58,106.85h0.01M357.1,110.1h0.01M358.48,112.63h0.01M360.12,115.68h0.01M361.46,118.47h0.01M363.04,120.58h0.01M364.33,124.14h0.01M365.75,127.32h0.01M367.29,127.74h0.01M368.76,131.37h0.01M370.41,131.2h0.01M371.72,131.99h0.01M373.62,133.96h0.01M375.12,134.97h0.01" stroke="#111" stroke-width="1.15" stroke-linecap="round"/>
<path d="M271.82,190.6 L272.32,190.6 L272.82,190.6 L273.32,190.59 L273.82,190.59 L274.32,190.58 L274.82,190.58 L275.32,190.56 L275.82,190.55 L276.32,190.52 L276.82,190.47 L277.32,190.42 L277.82,190.35 L278.32,190.26 L278.82,190.14 L279.32,190 L279.82,189.82 L280.32,189.6 L280.82,189.33 L281.32,189.01 L281.82,188.63 L282.32,188.18 L282.82,187.67 L283.32,187.08 L283.82,186.44 L284.32,185.73 L284.82,184.97 L285.32,184.17 L285.82,183.35 L286.32,182.53 L286.82,181.73 L287.32,180.96 L287.82,180.27 L288.32,179.66 L288.82,179.16 L289.32,178.79 L289.82,178.56 L290.32,178.48 L290.82,178.55 L291.32,178.77 L291.82,179.13 L292.32,179.61 L292.82,180.21 L293.32,180.89 L293.82,181.63 L294.32,182.42 L294.82,183.22 L295.32,184.01 L295.82,184.78 L296.32,185.52 L296.82,186.2 L297.32,186.82 L297.82,187.37 L298.32,187.86 L298.82,188.28 L299.32,188.63 L299.82,188.93 L300.32,189.17 L300.82,189.37 L301.32,189.52 L301.82,189.64 L302.32,189.73 L302.82,189.79 L303.32,189.84 L303.82,189.87 L304.32,189.89 L304.82,189.9 L305.32,189.91 L305.82,189.91 L306.32,189.9 L306.82,189.9 L307.32,189.89 L307.82,189.88 L308.32,189.87" fill="none" stroke="#c03aa0" stroke-width="1.05"/>
<path d="M282.1,190.46 L282.6,190.45 L283.1,190.44 L283.6,190.42 L284.1,190.41 L284.6,190.39 L285.1,190.37 L285.6,190.34 L286.1,190.31 L286.6,190.28 L287.1,190.23 L287.6,190.17 L288.1,190.1 L288.6,190 L289.1,189.88 L289.6,189.72 L290.1,189.53 L290.6,189.29 L291.1,189 L291.6,188.65 L292.1,188.23 L292.6,187.74 L293.1,187.17 L293.6,186.53 L294.1,185.81 L294.6,185.02 L295.1,184.16 L295.6,183.25 L296.1,182.3 L296.6,181.33 L297.1,180.37 L297.6,179.44 L298.1,178.57 L298.6,177.78 L299.1,177.09 L299.6,176.54 L300.1,176.14 L300.6,175.9 L301.1,175.84 L301.6,175.95 L302.1,176.23 L302.6,176.67 L303.1,177.26 L303.6,177.96 L304.1,178.77 L304.6,179.65 L305.1,180.57 L305.6,181.51 L306.1,182.45 L306.6,183.37 L307.1,184.24 L307.6,185.05 L308.1,185.79 L308.6,186.46 L309.1,187.05 L309.6,187.56 L310.1,188 L310.6,188.36 L311.1,188.67 L311.6,188.91 L312.1,189.11 L312.6,189.27 L313.1,189.38 L313.6,189.47 L314.1,189.54 L314.6,189.59 L315.1,189.62 L315.6,189.64 L316.1,189.65 L316.6,189.65 L317.1,189.65 L317.6,189.65 L318.1,189.64 L318.6,189.64 L319.1,189.63 L319.6,189.62" fill="none" stroke="#3cc0d0" stroke-width="1.05"/>
<path d="M283.54,190.43 L284.04,190.42 L284.54,190.41 L285.04,190.39 L285.54,190.38 L286.04,190.37 L286.54,190.35 L287.04,190.33 L287.54,190.31 L288.04,190.28 L288.54,190.25 L289.04,190.21 L289.54,190.17 L290.04,190.11 L290.54,190.03 L291.04,189.94 L291.54,189.82 L292.04,189.68 L292.54,189.51 L293.04,189.31 L293.54,189.07 L294.04,188.79 L294.54,188.47 L295.04,188.11 L295.54,187.72 L296.04,187.29 L296.54,186.84 L297.04,186.37 L297.54,185.89 L298.04,185.42 L298.54,184.97 L299.04,184.55 L299.54,184.19 L300.04,183.88 L300.54,183.65 L301.04,183.49 L301.54,183.43 L302.04,183.45 L302.54,183.56 L303.04,183.75 L303.54,184.02 L304.04,184.35 L304.54,184.73 L305.04,185.16 L305.54,185.6 L306.04,186.05 L306.54,186.5 L307.04,186.94 L307.54,187.35 L308.04,187.73 L308.54,188.08 L309.04,188.38 L309.54,188.65 L310.04,188.87 L310.54,189.06 L311.04,189.22 L311.54,189.35 L312.04,189.44 L312.54,189.52 L313.04,189.58 L313.54,189.62 L314.04,189.65 L314.54,189.66 L315.04,189.67 L315.54,189.68 L316.04,189.68 L316.54,189.67 L317.04,189.67 L317.54,189.66 L318.04,189.65 L318.54,189.64 L319.04,189.63 L319.54,189.62" fill="none" stroke="#c03aa0" stroke-width="1.05"/>
<path d="M292.68,190.22 L293.18,190.21 L293.68,190.2 L294.18,190.19 L294.68,190.17 L295.18,190.16 L295.68,190.14 L296.18,190.13 L296.68,190.11 L297.18,190.08 L297.68,190.05 L298.18,190.02 L298.68,189.97 L299.18,189.92 L299.68,189.85 L300.18,189.77 L300.68,189.67 L301.18,189.54 L301.68,189.39 L302.18,189.21 L302.68,189 L303.18,188.75 L303.68,188.46 L304.18,188.13 L304.68,187.76 L305.18,187.35 L305.68,186.9 L306.18,186.42 L306.68,185.92 L307.18,185.4 L307.68,184.87 L308.18,184.35 L308.68,183.85 L309.18,183.39 L309.68,182.98 L310.18,182.62 L310.68,182.34 L311.18,182.13 L311.68,182.02 L312.18,181.99 L312.68,182.06 L313.18,182.22 L313.68,182.46 L314.18,182.77 L314.68,183.15 L315.18,183.58 L315.68,184.05 L316.18,184.54 L316.68,185.04 L317.18,185.54 L317.68,186.03 L318.18,186.49 L318.68,186.92 L319.18,187.32 L319.68,187.68 L320.18,188 L320.68,188.28 L321.18,188.52 L321.68,188.72 L322.18,188.89 L322.68,189.03 L323.18,189.13 L323.68,189.22 L324.18,189.28 L324.68,189.33 L325.18,189.35 L325.68,189.33 L326.18,189.31 L326.68,189.27 L327.18,189.24 L327.68,189.19 L328.18,189.15 L328.68,189.1 L329.18,189.05 L329.68,189 L330.18,188.95 L330.68,188.9 L331.18,188.84" fill="none" stroke="#3cc0d0" stroke-width="1.05"/>
<path d="M322.4,189.55 L322.9,189.54 L323.4,189.52 L323.9,189.51 L324.4,189.49 L324.9,189.46 L325.4,189.4 L325.9,189.33 L326.4,189.25 L326.9,189.16 L327.4,189.05 L327.9,188.94 L328.4,188.8 L328.9,188.63 L329.4,188.44 L329.9,188.21 L330.4,187.94 L330.9,187.61 L331.4,187.21 L331.9,186.75 L332.4,186.19 L332.9,185.54 L333.4,184.79 L333.9,183.91 L334.4,182.89 L334.9,181.74 L335.4,180.43 L335.9,178.97 L336.4,177.35 L336.9,175.58 L337.4,173.65 L337.9,171.58 L338.4,169.39 L338.9,167.1 L339.4,164.73 L339.9,162.31 L340.4,159.89 L340.9,157.51 L341.4,155.19 L341.9,153 L342.4,150.97 L342.9,149.15 L343.4,147.57 L343.9,146.28 L344.4,145.3 L344.9,144.65 L345.4,144.34 L345.9,144.4 L346.4,144.8 L346.9,145.55 L347.4,146.62 L347.9,147.98 L348.4,149.6 L348.9,151.45 L349.4,153.47 L349.9,155.64 L350.4,157.89 L350.9,160.2 L351.4,162.51 L351.9,164.8 L352.4,167.02 L352.9,169.15 L353.4,171.16 L353.9,173.04 L354.4,174.77 L354.9,176.35 L355.4,177.77 L355.9,179.03 L356.4,180.14 L356.9,181.1 L357.4,181.93 L357.9,182.63 L358.4,183.21 L358.9,183.7 L359.4,184.09 L359.9,184.4 L360.4,184.65 L360.9,184.84 L361.4,184.98 L361.9,185.08 L362.4,185.15 L362.9,185.19 L363.4,185.21 L363.9,185.22 L364.4,185.21 L364.9,185.19 L365.4,185.16 L365.9,185.12 L366.4,185.08 L366.9,185.04 L367.4,184.99 L367.9,184.94 L368.4,184.89" fill="none" stroke="#bcbce2" stroke-width="1.05"/>
<path d="M334.36,188.5 L334.86,188.45 L335.36,188.39 L335.86,188.34 L336.36,188.28 L336.86,188.22 L337.36,188.16 L337.86,188.09 L338.36,188.02 L338.86,187.94 L339.36,187.85 L339.86,187.75 L340.36,187.64 L340.86,187.51 L341.36,187.36 L341.86,187.18 L342.36,186.96 L342.86,186.71 L343.36,186.42 L343.86,186.06 L344.36,185.65 L344.86,185.17 L345.36,184.61 L345.86,183.97 L346.36,183.23 L346.86,182.4 L347.36,181.47 L347.86,180.44 L348.36,179.32 L348.86,178.11 L349.36,176.81 L349.86,175.45 L350.36,174.04 L350.86,172.59 L351.36,171.14 L351.86,169.71 L352.36,168.33 L352.86,167.02 L353.36,165.82 L353.86,164.75 L354.36,163.84 L354.86,163.12 L355.36,162.59 L355.86,162.28 L356.36,162.19 L356.86,162.32 L357.36,162.66 L357.86,163.21 L358.36,163.95 L358.86,164.85 L359.36,165.9 L359.86,167.07 L360.36,168.32 L360.86,169.64 L361.36,170.98 L361.86,172.32 L362.36,173.64 L362.86,174.92 L363.36,176.13 L363.86,177.27 L364.36,178.32 L364.86,179.28 L365.36,180.14 L365.86,180.89 L366.36,181.56 L366.86,182.13 L367.36,182.61 L367.86,183.01 L368.36,183.35 L368.86,183.61 L369.36,183.82 L369.86,183.98 L370.36,184.1 L370.86,184.19 L371.36,184.24 L371.86,184.28 L372.36,184.29 L372.86,184.29 L373.36,184.27 L373.86,184.25 L374.36,184.21 L374.86,184.18" fill="none" stroke="#bcbce2" stroke-width="1.05"/>
<path d="M276,190.6 C284.17,190.42 308.5,190.57 325,189.5 C341.5,188.43 366.67,185.08 375,184.2" fill="none" stroke="#c0303a" stroke-width="1.3"/>
<path d="M276,188 C276.67,187.5 278.83,186 280,185 C281.17,184 281.96,183.04 283,182 C284.04,180.96 285.25,179.92 286.25,178.75 C287.25,177.58 288.17,176.14 289,175 C289.83,173.86 290.25,173.05 291.25,171.9 C292.25,170.75 293.64,169.35 295,168.1 C296.36,166.85 297.94,164.82 299.4,164.4 C300.86,163.98 302.4,164.77 303.75,165.6 C305.1,166.43 306.46,168.08 307.5,169.4 C308.54,170.72 309.17,172.18 310,173.5 C310.83,174.82 311.67,176.35 312.5,177.3 C313.33,178.25 314.17,178.68 315,179.2 C315.83,179.72 316.5,179.93 317.5,180.4 C318.5,180.87 319.92,181.7 321,182 C322.08,182.3 323.1,182.3 324,182.2 C324.9,182.1 325.57,181.97 326.4,181.4 C327.23,180.83 328.15,179.95 329,178.8 C329.85,177.65 330.7,176.3 331.5,174.5 C332.3,172.7 332.97,170.42 333.8,168 C334.63,165.58 335.58,162.92 336.5,160 C337.42,157.08 338.25,153.92 339.3,150.5 C340.35,147.08 341.55,142.35 342.8,139.5 C344.05,136.65 345.47,133.97 346.8,133.4 C348.13,132.83 349.45,133.87 350.8,136.1 C352.15,138.33 353.33,142.78 354.9,146.8 C356.47,150.82 358.42,156.18 360.2,160.2 C361.98,164.22 363.58,167.55 365.6,170.9 C367.62,174.25 370.57,178.12 372.3,180.3 C374.03,182.48 375.38,183.38 376,184" fill="none" stroke="#1a1a1a" stroke-width="0.85"/>
<path d="M275.74,188.18h0.01M277.42,187.55h0.01M279.19,186.59h0.01M280.24,185.29h0.01M282.25,183.92h0.01M283.26,180.92h0.01M284.77,179.15h0.01M286.71,179.07h0.01M288.08,177.06h0.01M289.58,173.87h0.01M290.76,171.4h0.01M292.65,169.94h0.01M293.89,168.88h0.01M295.21,167.13h0.01M296.87,166.53h0.01M298.42,164.47h0.01M300.28,164.3h0.01M301.71,164.72h0.01M302.72,164.98h0.01M304.46,166.69h0.01M305.91,168.01h0.01M307.52,168.83h0.01M309.22,170.97h0.01M310.69,173.65h0.01M311.7,176.07h0.01M313.66,179.19h0.01M314.7,179.18h0.01M316.49,180.55h0.01M317.81,180.63h0.01M319.41,182.07h0.01M320.86,182.89h0.01M322.37,181.67h0.01M324.12,182.2h0.01M325.27,182.14h0.01M326.75,181.53h0.01M328.62,180.01h0.01M330.08,177.05h0.01M331.44,174.29h0.01M333.23,169.56h0.01M334.73,165.03h0.01M335.82,161.09h0.01M337.74,156.66h0.01M338.93,152.26h0.01M340.34,146.36h0.01M342.02,142.1h0.01M343.65,138.25h0.01M344.91,134.86h0.01M346.29,134.25h0.01M348.1,133.8h0.01M349.3,134.21h0.01M351.16,136.61h0.01M352.28,139.92h0.01M354.23,143.8h0.01M355.31,147.95h0.01M357.12,152.96h0.01M358.29,155.44h0.01M359.85,159.4h0.01M361.51,162.38h0.01M362.9,165.53h0.01M364.79,169.45h0.01M365.76,172.48h0.01M367.26,173.64h0.01M369.29,176.59h0.01M370.64,177.87h0.01M371.82,180.2h0.01M373.26,181.06h0.01M374.93,182.12h0.01" stroke="#111" stroke-width="1.15" stroke-linecap="round"/>
<path d="M274.2,246.82 L274.7,246.8 L275.2,246.78 L275.7,246.75 L276.2,246.73 L276.7,246.71 L277.2,246.68 L277.7,246.66 L278.2,246.63 L278.7,246.61 L279.2,246.57 L279.7,246.54 L280.2,246.5 L280.7,246.45 L281.2,246.4 L281.7,246.33 L282.2,246.25 L282.7,246.17 L283.2,246.06 L283.7,245.94 L284.2,245.8 L284.7,245.65 L285.2,245.47 L285.7,245.29 L286.2,245.09 L286.7,244.88 L287.2,244.67 L287.7,244.46 L288.2,244.26 L288.7,244.08 L289.2,243.92 L289.7,243.78 L290.2,243.68 L290.7,243.62 L291.2,243.59 L291.7,243.61 L292.2,243.66 L292.7,243.74 L293.2,243.86 L293.7,243.99 L294.2,244.15 L294.7,244.31 L295.2,244.48 L295.7,244.65 L296.2,244.8 L296.7,244.95 L297.2,245.08 L297.7,245.2 L298.2,245.3 L298.7,245.38 L299.2,245.44 L299.7,245.49 L300.2,245.53 L300.7,245.55 L301.2,245.57 L301.7,245.57 L302.2,245.57 L302.7,245.56 L303.2,245.55 L303.7,245.54 L304.2,245.52 L304.7,245.51 L305.2,245.49 L305.7,245.47 L306.2,245.45 L306.7,245.43 L307.2,245.41 L307.7,245.38" fill="none" stroke="#c03aa0" stroke-width="1.05"/>
<path d="M285.24,246.34 L285.74,246.31 L286.24,246.28 L286.74,246.25 L287.24,246.21 L287.74,246.15 L288.24,246.08 L288.74,245.98 L289.24,245.84 L289.74,245.66 L290.24,245.4 L290.74,245.05 L291.24,244.58 L291.74,243.95 L292.24,243.13 L292.74,242.08 L293.24,240.76 L293.74,239.14 L294.24,237.18 L294.74,234.86 L295.24,232.18 L295.74,229.16 L296.24,225.82 L296.74,222.25 L297.24,218.53 L297.74,214.76 L298.24,211.09 L298.74,207.65 L299.24,204.6 L299.74,202.07 L300.24,200.18 L300.74,199.03 L301.24,198.66 L301.74,199.11 L302.24,200.35 L302.74,202.3 L303.24,204.88 L303.74,207.96 L304.24,211.4 L304.74,215.06 L305.24,218.78 L305.74,222.45 L306.24,225.94 L306.74,229.19 L307.24,232.12 L307.74,234.69 L308.24,236.91 L308.74,238.78 L309.24,240.31 L309.74,241.54 L310.24,242.5 L310.74,243.24 L311.24,243.8 L311.74,244.21 L312.24,244.5 L312.74,244.7 L313.24,244.84 L313.74,244.92 L314.24,244.97 L314.74,245 L315.24,245.01 L315.74,245.01 L316.24,245 L316.74,244.99" fill="none" stroke="#62c8d6" stroke-width="1.05"/>
<path d="M297.5,245.82 L298,245.79 L298.5,245.77 L299,245.74 L299.5,245.71 L300,245.66 L300.5,245.61 L301,245.54 L301.5,245.44 L302,245.31 L302.5,245.13 L303,244.89 L303.5,244.56 L304,244.13 L304.5,243.57 L305,242.85 L305.5,241.96 L306,240.88 L306.5,239.59 L307,238.12 L307.5,236.46 L308,234.66 L308.5,232.77 L309,230.84 L309.5,228.97 L310,227.23 L310.5,225.71 L311,224.5 L311.5,223.66 L312,223.24 L312.5,223.26 L313,223.72 L313.5,224.6 L314,225.84 L314.5,227.37 L315,229.1 L315.5,230.94 L316,232.83 L316.5,234.66 L317,236.4 L317.5,237.97 L318,239.37 L318.5,240.57 L319,241.57 L319.5,242.38 L320,243.02 L320.5,243.51 L321,243.88 L321.5,244.15 L322,244.33 L322.5,244.46 L323,244.54 L323.5,244.59 L324,244.61 L324.5,244.62 L325,244.62 L325.5,244.61 L326,244.59 L326.5,244.57" fill="none" stroke="#3cc0d0" stroke-width="1.05"/>
<path d="M323.1,244.72 L323.6,244.7 L324.1,244.67 L324.6,244.65 L325.1,244.62 L325.6,244.59 L326.1,244.56 L326.6,244.52 L327.1,244.48 L327.6,244.43 L328.1,244.37 L328.6,244.3 L329.1,244.22 L329.6,244.12 L330.1,244 L330.6,243.85 L331.1,243.67 L331.6,243.45 L332.1,243.18 L332.6,242.86 L333.1,242.48 L333.6,242.03 L334.1,241.5 L334.6,240.88 L335.1,240.17 L335.6,239.35 L336.1,238.42 L336.6,237.39 L337.1,236.24 L337.6,234.97 L338.1,233.6 L338.6,232.13 L339.1,230.56 L339.6,228.93 L340.1,227.24 L340.6,225.51 L341.1,223.79 L341.6,222.08 L342.1,220.43 L342.6,218.87 L343.1,217.42 L343.6,216.12 L344.1,215 L344.6,214.09 L345.1,213.4 L345.6,212.94 L346.1,212.74 L346.6,212.8 L347.1,213.11 L347.6,213.66 L348.1,214.45 L348.6,215.45 L349.1,216.63 L349.6,217.98 L350.1,219.46 L350.6,221.04 L351.1,222.68 L351.6,224.36 L352.1,226.04 L352.6,227.71 L353.1,229.33 L353.6,230.88 L354.1,232.35 L354.6,233.72 L355.1,234.98 L355.6,236.14 L356.1,237.18 L356.6,238.1 L357.1,238.92 L357.6,239.63 L358.1,240.24 L358.6,240.76 L359.1,241.2 L359.6,241.57 L360.1,241.87 L360.6,242.11 L361.1,242.31 L361.6,242.46 L362.1,242.58 L362.6,242.67 L363.1,242.73 L363.6,242.78 L364.1,242.81 L364.6,242.83 L365.1,242.84 L365.6,242.84 L366.1,242.84 L366.6,242.83 L367.1,242.82 L367.6,242.8 L368.1,242.78 L368.6,242.77 L369.1,242.75" fill="none" stroke="#bcbce2" stroke-width="1.05"/>
<path d="M337,244.13 L337.5,244.1 L338,244.08 L338.5,244.06 L339,244.03 L339.5,244.01 L340,243.98 L340.5,243.95 L341,243.91 L341.5,243.87 L342,243.82 L342.5,243.77 L343,243.7 L343.5,243.63 L344,243.53 L344.5,243.42 L345,243.28 L345.5,243.11 L346,242.9 L346.5,242.66 L347,242.37 L347.5,242.02 L348,241.63 L348.5,241.17 L349,240.65 L349.5,240.06 L350,239.4 L350.5,238.68 L351,237.9 L351.5,237.06 L352,236.18 L352.5,235.27 L353,234.34 L353.5,233.42 L354,232.51 L354.5,231.64 L355,230.83 L355.5,230.1 L356,229.47 L356.5,228.95 L357,228.57 L357.5,228.32 L358,228.23 L358.5,228.28 L359,228.48 L359.5,228.82 L360,229.3 L360.5,229.88 L361,230.57 L361.5,231.34 L362,232.16 L362.5,233.03 L363,233.92 L363.5,234.8 L364,235.67 L364.5,236.51 L365,237.3 L365.5,238.04 L366,238.72 L366.5,239.33 L367,239.87 L367.5,240.35 L368,240.77 L368.5,241.12 L369,241.42 L369.5,241.67 L370,241.87 L370.5,242.03 L371,242.16 L371.5,242.26 L372,242.33 L372.5,242.38 L373,242.42 L373.5,242.44 L374,242.45 L374.5,242.46 L375,242.45" fill="none" stroke="#bcbce2" stroke-width="1.05"/>
<path d="M263,247.3 L375,242.5" fill="none" stroke="#7a3cb0" stroke-width="1.7"/>
<path d="M272.5,246.2 C273.17,245.93 275.12,245.23 276.5,244.6 C277.88,243.97 279.63,242.92 280.8,242.4 C281.97,241.88 282.53,241.95 283.5,241.5 C284.47,241.05 285.68,240.62 286.6,239.7 C287.52,238.78 288.22,237.37 289,236 C289.78,234.63 290.63,233.33 291.3,231.5 C291.97,229.67 292.42,227.72 293,225 C293.58,222.28 294.2,218.37 294.8,215.2 C295.4,212.03 296.02,208.7 296.6,206 C297.18,203.3 297.73,200.92 298.3,199 C298.87,197.08 299.43,195.48 300,194.5 C300.57,193.52 301.03,192.77 301.7,193.1 C302.37,193.43 303.22,194.95 304,196.5 C304.78,198.05 305.7,200.73 306.4,202.4 C307.1,204.07 307.62,205.33 308.2,206.5 C308.78,207.67 309.23,207.95 309.9,209.4 C310.57,210.85 311.52,213.35 312.2,215.2 C312.88,217.05 313.42,218.75 314,220.5 C314.58,222.25 315.12,224.2 315.7,225.7 C316.28,227.2 316.92,228.33 317.5,229.5 C318.08,230.67 318.53,231.75 319.2,232.7 C319.87,233.65 320.73,234.55 321.5,235.2 C322.27,235.85 322.88,236.3 323.8,236.6 C324.72,236.9 325.83,237.07 327,237 C328.17,236.93 329.63,236.95 330.8,236.2 C331.97,235.45 332.92,234.13 334,232.5 C335.08,230.87 336.3,228.65 337.3,226.4 C338.3,224.15 339.18,221.28 340,219 C340.82,216.72 341.45,214.43 342.2,212.7 C342.95,210.97 343.83,209.58 344.5,208.6 C345.17,207.62 345.6,207.27 346.2,206.8 C346.8,206.33 347.38,205.77 348.1,205.8 C348.82,205.83 349.68,206.35 350.5,207 C351.32,207.65 352.25,208.62 353,209.7 C353.75,210.78 354.33,212.18 355,213.5 C355.67,214.82 356.33,216.32 357,217.6 C357.67,218.88 358.35,220.05 359,221.2 C359.65,222.35 360.15,223.2 360.9,224.5 C361.65,225.8 362.52,227.37 363.5,229 C364.48,230.63 365.72,232.88 366.8,234.3 C367.88,235.72 369.02,236.68 370,237.5 C370.98,238.32 371.87,238.65 372.7,239.2 C373.53,239.75 374.62,240.53 375,240.8" fill="none" stroke="#1a1a1a" stroke-width="0.85"/>
<path d="M272.44,246.78h0.01M274.12,245.62h0.01M275.58,244.96h0.01M276.79,244.57h0.01M278.44,244.06h0.01M280.24,242.64h0.01M281.54,242.64h0.01M282.95,241.16h0.01M284.63,241.82h0.01M286.16,240.62h0.01M287.71,238.9h0.01M289.08,235.91h0.01M290.39,233.63h0.01M291.76,229.06h0.01M293.67,222.89h0.01M295.08,213.64h0.01M296.45,206.38h0.01M298.07,199.88h0.01M299.61,196.38h0.01M300.81,193.51h0.01M302.67,193.64h0.01M303.99,197.45h0.01M305.22,200.2h0.01M306.8,204.39h0.01M308.76,207.09h0.01M309.76,209.77h0.01M311.52,213.76h0.01M313.01,217.76h0.01M314.7,222.11h0.01M315.95,227.33h0.01M317.33,229.87h0.01M318.94,232.92h0.01M320.27,235.24h0.01M321.91,234.71h0.01M323.36,236.29h0.01M324.71,236.73h0.01M326.45,237.41h0.01M327.91,236.49h0.01M329.33,237.24h0.01M331.26,236.12h0.01M332.33,235.18h0.01M333.94,231.92h0.01M335.28,230.58h0.01M337.19,227.33h0.01M338.48,223.43h0.01M339.84,219.93h0.01M341.41,214.81h0.01M343.19,211.67h0.01M344.48,208.19h0.01M346.03,206.21h0.01M347.7,205.63h0.01M349.21,205.56h0.01M350.43,206.51h0.01M351.96,207.79h0.01M353.2,210.96h0.01M354.87,212.99h0.01M356.38,216.56h0.01M357.96,219.71h0.01M359.6,221.8h0.01M361.26,225.38h0.01M362.23,227.95h0.01M364.24,230.41h0.01M365.28,233.03h0.01M367.08,233.59h0.01M368.21,237.09h0.01M370.09,237h0.01M371.26,237.78h0.01M372.84,239.95h0.01M374.41,239.75h0.01" stroke="#111" stroke-width="1.15" stroke-linecap="round"/>
<line x1="263" y1="256" x2="375" y2="256" stroke="#333" stroke-width="0.8"/>
<line x1="263.5" y1="253.8" x2="263.5" y2="256" stroke="#333" stroke-width="0.7"/>
<text x="263.5" y="262.4" font-size="4.9" fill="#222" font-family="'Liberation Sans', Arial, sans-serif" text-anchor="middle" stroke="#222" stroke-width="0.25">160</text>
<line x1="272.75" y1="254.7" x2="272.75" y2="256" stroke="#333" stroke-width="0.7"/>
<line x1="282" y1="253.8" x2="282" y2="256" stroke="#333" stroke-width="0.7"/>
<text x="282" y="262.4" font-size="4.9" fill="#222" font-family="'Liberation Sans', Arial, sans-serif" text-anchor="middle" stroke="#222" stroke-width="0.25">162</text>
<line x1="291.25" y1="254.7" x2="291.25" y2="256" stroke="#333" stroke-width="0.7"/>
<line x1="300.5" y1="253.8" x2="300.5" y2="256" stroke="#333" stroke-width="0.7"/>
<text x="300.5" y="262.4" font-size="4.9" fill="#222" font-family="'Liberation Sans', Arial, sans-serif" text-anchor="middle" stroke="#222" stroke-width="0.25">164</text>
<line x1="309.75" y1="254.7" x2="309.75" y2="256" stroke="#333" stroke-width="0.7"/>
<line x1="319" y1="253.8" x2="319" y2="256" stroke="#333" stroke-width="0.7"/>
<text x="319" y="262.4" font-size="4.9" fill="#222" font-family="'Liberation Sans', Arial, sans-serif" text-anchor="middle" stroke="#222" stroke-width="0.25">166</text>
<line x1="328.25" y1="254.7" x2="328.25" y2="256" stroke="#333" stroke-width="0.7"/>
<line x1="337.5" y1="253.8" x2="337.5" y2="256" stroke="#333" stroke-width="0.7"/>
<text x="337.5" y="262.4" font-size="4.9" fill="#222" font-family="'Liberation Sans', Arial, sans-serif" text-anchor="middle" stroke="#222" stroke-width="0.25">168</text>
<line x1="346.75" y1="254.7" x2="346.75" y2="256" stroke="#333" stroke-width="0.7"/>
<line x1="356" y1="253.8" x2="356" y2="256" stroke="#333" stroke-width="0.7"/>
<text x="356" y="262.4" font-size="4.9" fill="#222" font-family="'Liberation Sans', Arial, sans-serif" text-anchor="middle" stroke="#222" stroke-width="0.25">170</text>
<line x1="365.25" y1="254.7" x2="365.25" y2="256" stroke="#333" stroke-width="0.7"/>
<line x1="374.5" y1="253.8" x2="374.5" y2="256" stroke="#333" stroke-width="0.7"/>
<text x="374.5" y="262.4" font-size="4.9" fill="#222" font-family="'Liberation Sans', Arial, sans-serif" text-anchor="middle" stroke="#222" stroke-width="0.25">172</text>
<text x="319.2" y="270.7" font-size="5.2" fill="#222" font-family="'Liberation Sans', Arial, sans-serif" text-anchor="middle" stroke="#222" stroke-width="0.2">Binding Energy /eV</text>
<text x="387.2" y="16" font-size="14.8" fill="#111" font-family="'Liberation Serif', 'Times New Roman', serif" text-anchor="start" font-weight="bold">(c)</text>
<rect x="407.5" y="14" width="133.1" height="114.1" fill="none" stroke="#222" stroke-width="1.15"/>
<line x1="405.5" y1="32" x2="407.5" y2="32" stroke="#222" stroke-width="0.8"/>
<text stroke="#222" stroke-width="0.18" x="405.6" y="35" font-size="8.6" fill="#222" font-family="'Liberation Serif', 'Times New Roman', serif" text-anchor="end">2.0</text>
<line x1="406.3" y1="44.06" x2="407.5" y2="44.06" stroke="#222" stroke-width="0.7"/>
<line x1="405.5" y1="56.12" x2="407.5" y2="56.12" stroke="#222" stroke-width="0.8"/>
<text stroke="#222" stroke-width="0.18" x="405.6" y="59.12" font-size="8.6" fill="#222" font-family="'Liberation Serif', 'Times New Roman', serif" text-anchor="end">1.6</text>
<line x1="406.3" y1="68.18" x2="407.5" y2="68.18" stroke="#222" stroke-width="0.7"/>
<line x1="405.5" y1="80.24" x2="407.5" y2="80.24" stroke="#222" stroke-width="0.8"/>
<text stroke="#222" stroke-width="0.18" x="405.6" y="83.24" font-size="8.6" fill="#222" font-family="'Liberation Serif', 'Times New Roman', serif" text-anchor="end">1.2</text>
<line x1="406.3" y1="92.3" x2="407.5" y2="92.3" stroke="#222" stroke-width="0.7"/>
<line x1="405.5" y1="104.36" x2="407.5" y2="104.36" stroke="#222" stroke-width="0.8"/>
<text stroke="#222" stroke-width="0.18" x="405.6" y="107.36" font-size="8.6" fill="#222" font-family="'Liberation Serif', 'Times New Roman', serif" text-anchor="end">0.8</text>
<line x1="406.3" y1="116.42" x2="407.5" y2="116.42" stroke="#222" stroke-width="0.7"/>
<line x1="405.5" y1="128.48" x2="407.5" y2="128.48" stroke="#222" stroke-width="0.8"/>
<text stroke="#222" stroke-width="0.18" x="405.6" y="131.48" font-size="8.6" fill="#222" font-family="'Liberation Serif', 'Times New Roman', serif" text-anchor="end">0.4</text>
<line x1="407.6" y1="128.25" x2="407.6" y2="130.3" stroke="#222" stroke-width="0.8"/>
<text stroke="#222" stroke-width="0.18" x="407.6" y="139.5" font-size="8.6" fill="#222" font-family="'Liberation Serif', 'Times New Roman', serif" text-anchor="middle">0</text>
<line x1="421.57" y1="128.25" x2="421.57" y2="129.5" stroke="#222" stroke-width="0.7"/>
<line x1="435.55" y1="128.25" x2="435.55" y2="130.3" stroke="#222" stroke-width="0.8"/>
<text stroke="#222" stroke-width="0.18" x="435.55" y="139.5" font-size="8.6" fill="#222" font-family="'Liberation Serif', 'Times New Roman', serif" text-anchor="middle">200</text>
<line x1="449.52" y1="128.25" x2="449.52" y2="129.5" stroke="#222" stroke-width="0.7"/>
<line x1="463.5" y1="128.25" x2="463.5" y2="130.3" stroke="#222" stroke-width="0.8"/>
<text stroke="#222" stroke-width="0.18" x="463.5" y="139.5" font-size="8.6" fill="#222" font-family="'Liberation Serif', 'Times New Roman', serif" text-anchor="middle">400</text>
<line x1="477.47" y1="128.25" x2="477.47" y2="129.5" stroke="#222" stroke-width="0.7"/>
<line x1="491.45" y1="128.25" x2="491.45" y2="130.3" stroke="#222" stroke-width="0.8"/>
<text stroke="#222" stroke-width="0.18" x="491.45" y="139.5" font-size="8.6" fill="#222" font-family="'Liberation Serif', 'Times New Roman', serif" text-anchor="middle">600</text>
<line x1="505.42" y1="128.25" x2="505.42" y2="129.5" stroke="#222" stroke-width="0.7"/>
<line x1="519.4" y1="128.25" x2="519.4" y2="130.3" stroke="#222" stroke-width="0.8"/>
<text stroke="#222" stroke-width="0.18" x="519.4" y="139.5" font-size="8.6" fill="#222" font-family="'Liberation Serif', 'Times New Roman', serif" text-anchor="middle">800</text>
<line x1="533.37" y1="128.25" x2="533.37" y2="129.5" stroke="#222" stroke-width="0.7"/>
<text stroke="#222" stroke-width="0.18" x="474.3" y="149.5" font-size="8.6" fill="#222" font-family="'Liberation Serif', 'Times New Roman', serif" text-anchor="middle">Specific capacity (mAh g<tspan font-size="6.2" dy="-3.6">−1</tspan><tspan dy="3.6"> )</tspan></text>
<text stroke="#222" stroke-width="0.18" x="0" y="0" font-size="8.7" fill="#222" font-family="'Liberation Serif', 'Times New Roman', serif" text-anchor="middle" transform="translate(387.4,72.5) rotate(-90)">Voltage (V vs Mg/Mg<tspan font-size="5.6" dy="-3.2">2+</tspan><tspan dy="3.2">)</tspan></text>
<path d="M408.5,40 C408.55,40.83 408.62,43.5 408.8,45 C408.98,46.5 409.2,47.73 409.6,49 C410,50.27 410.47,51.53 411.2,52.6 C411.93,53.67 412.7,54.62 414,55.4 C415.3,56.18 417.17,56.8 419,57.3 C420.83,57.8 422.83,58.12 425,58.4 C427.17,58.68 429.5,58.78 432,59 C434.5,59.22 437.5,59.37 440,59.7 C442.5,60.03 445,60.52 447,61 C449,61.48 450.58,61.97 452,62.6 C453.42,63.23 454.45,63.93 455.5,64.8 C456.55,65.67 457.47,66.68 458.3,67.8 C459.13,68.92 459.8,70.05 460.5,71.5 C461.2,72.95 461.75,74.53 462.5,76.5 C463.25,78.47 464.17,81.42 465,83.3 C465.83,85.18 466.67,86.52 467.5,87.8 C468.33,89.08 468.75,89.83 470,91 C471.25,92.17 473.33,93.77 475,94.8 C476.67,95.83 478.17,96.45 480,97.2 C481.83,97.95 483.92,98.62 486,99.3 C488.08,99.98 490.33,100.68 492.5,101.3 C494.67,101.92 497,102.38 499,103 C501,103.62 502.92,104.25 504.5,105 C506.08,105.75 507.25,106.53 508.5,107.5 C509.75,108.47 510.92,109.55 512,110.8 C513.08,112.05 514.03,113.58 515,115 C515.97,116.42 516.97,118 517.8,119.3 C518.63,120.6 519.63,122.22 520,122.8" fill="none" stroke="#2a9a46" stroke-width="1.45"/>
<ellipse cx="408.9" cy="40.4" rx="6.1" ry="3.25" fill="#f39442" fill-opacity="0.88"/>
<ellipse cx="428.2" cy="58.2" rx="6.1" ry="3.25" fill="#f39442" fill-opacity="0.88"/>
<ellipse cx="445" cy="60.5" rx="6.1" ry="3.25" fill="#f39442" fill-opacity="0.88"/>
<ellipse cx="460" cy="69.8" rx="6.1" ry="3.25" fill="#f39442" fill-opacity="0.88"/>
<ellipse cx="519.5" cy="123.8" rx="6.1" ry="3.25" fill="#f39442" fill-opacity="0.88"/>
<text stroke="#222" stroke-width="0.18" x="416.2" y="38.9" font-size="8.2" fill="#222" font-family="'Liberation Serif', 'Times New Roman', serif">S<tspan font-size="4.59" dy="1.5">8</tspan></text>
<text stroke="#222" stroke-width="0.18" x="418.2" y="52.8" font-size="8.2" fill="#222" font-family="'Liberation Serif', 'Times New Roman', serif">MgS<tspan font-size="4.59" dy="1.5">8</tspan></text>
<text stroke="#222" stroke-width="0.18" x="438" y="52.8" font-size="8.2" fill="#222" font-family="'Liberation Serif', 'Times New Roman', serif">MgS<tspan font-size="4.59" dy="1.5">6</tspan></text>
<text stroke="#222" stroke-width="0.18" x="467" y="72.2" font-size="8.2" fill="#222" font-family="'Liberation Serif', 'Times New Roman', serif">MgS<tspan font-size="4.59" dy="1.5">4</tspan></text>
<text stroke="#222" stroke-width="0.18" x="517.5" y="108.3" font-size="8.2" fill="#222" font-family="'Liberation Serif', 'Times New Roman', serif">MgS<tspan font-size="4.59" dy="1.5">2</tspan></text>
<text stroke="#222" stroke-width="0.18" x="518.6" y="116.6" font-size="8.2" fill="#222" font-family="'Liberation Serif', 'Times New Roman', serif" text-anchor="start">MgS</text>
<text x="387.2" y="155.5" font-size="15" fill="#111" font-family="'Liberation Serif', 'Times New Roman', serif" text-anchor="start" font-weight="bold">(d)</text>
<rect x="404.5" y="154.9" width="136.5" height="99.6" fill="none" stroke="#222" stroke-width="1.15"/>
<line x1="402.5" y1="171.5" x2="404.5" y2="171.5" stroke="#222" stroke-width="0.8"/>
<text stroke="#222" stroke-width="0.18" x="401.3" y="174.5" font-size="8.6" fill="#222" font-family="'Liberation Serif', 'Times New Roman', serif" text-anchor="end">3</text>
<line x1="402.5" y1="193.5" x2="404.5" y2="193.5" stroke="#222" stroke-width="0.8"/>
<text stroke="#222" stroke-width="0.18" x="401.3" y="196.5" font-size="8.6" fill="#222" font-family="'Liberation Serif', 'Times New Roman', serif" text-anchor="end">2</text>
<line x1="402.5" y1="215.5" x2="404.5" y2="215.5" stroke="#222" stroke-width="0.8"/>
<text stroke="#222" stroke-width="0.18" x="401.3" y="218.5" font-size="8.6" fill="#222" font-family="'Liberation Serif', 'Times New Roman', serif" text-anchor="end">1</text>
<line x1="402.5" y1="237.5" x2="404.5" y2="237.5" stroke="#222" stroke-width="0.8"/>
<text stroke="#222" stroke-width="0.18" x="401.3" y="240.5" font-size="8.6" fill="#222" font-family="'Liberation Serif', 'Times New Roman', serif" text-anchor="end">0</text>
<line x1="403.7" y1="254" x2="403.7" y2="256" stroke="#222" stroke-width="0.8"/>
<text stroke="#222" stroke-width="0.18" x="403.7" y="265" font-size="8.6" fill="#222" font-family="'Liberation Serif', 'Times New Roman', serif" text-anchor="middle">0</text>
<line x1="415.11" y1="254" x2="415.11" y2="255.3" stroke="#222" stroke-width="0.7"/>
<line x1="426.52" y1="254" x2="426.52" y2="256" stroke="#222" stroke-width="0.8"/>
<text stroke="#222" stroke-width="0.18" x="426.52" y="265" font-size="8.6" fill="#222" font-family="'Liberation Serif', 'Times New Roman', serif" text-anchor="middle">200</text>
<line x1="437.93" y1="254" x2="437.93" y2="255.3" stroke="#222" stroke-width="0.7"/>
<line x1="449.34" y1="254" x2="449.34" y2="256" stroke="#222" stroke-width="0.8"/>
<text stroke="#222" stroke-width="0.18" x="449.34" y="265" font-size="8.6" fill="#222" font-family="'Liberation Serif', 'Times New Roman', serif" text-anchor="middle">400</text>
<line x1="460.75" y1="254" x2="460.75" y2="255.3" stroke="#222" stroke-width="0.7"/>
<line x1="472.16" y1="254" x2="472.16" y2="256" stroke="#222" stroke-width="0.8"/>
<text stroke="#222" stroke-width="0.18" x="472.16" y="265" font-size="8.6" fill="#222" font-family="'Liberation Serif', 'Times New Roman', serif" text-anchor="middle">600</text>
<line x1="483.57" y1="254" x2="483.57" y2="255.3" stroke="#222" stroke-width="0.7"/>
<line x1="494.98" y1="254" x2="494.98" y2="256" stroke="#222" stroke-width="0.8"/>
<text stroke="#222" stroke-width="0.18" x="494.98" y="265" font-size="8.6" fill="#222" font-family="'Liberation Serif', 'Times New Roman', serif" text-anchor="middle">800</text>
<line x1="506.39" y1="254" x2="506.39" y2="255.3" stroke="#222" stroke-width="0.7"/>
<line x1="517.8" y1="254" x2="517.8" y2="256" stroke="#222" stroke-width="0.8"/>
<text stroke="#222" stroke-width="0.18" x="517.8" y="265" font-size="8.6" fill="#222" font-family="'Liberation Serif', 'Times New Roman', serif" text-anchor="middle">1000</text>
<line x1="529.21" y1="254" x2="529.21" y2="255.3" stroke="#222" stroke-width="0.7"/>
<line x1="540.62" y1="254" x2="540.62" y2="256" stroke="#222" stroke-width="0.8"/>
<text stroke="#222" stroke-width="0.18" x="540.62" y="265" font-size="8.6" fill="#222" font-family="'Liberation Serif', 'Times New Roman', serif" text-anchor="middle">1200</text>
<text stroke="#222" stroke-width="0.18" x="482.3" y="273.9" font-size="8.3" fill="#222" font-family="'Liberation Serif', 'Times New Roman', serif" text-anchor="middle">Specific capacity (mAh·g<tspan font-size="5.8" dy="-3.2">−1</tspan><tspan dy="3.2">)</tspan></text>
<text stroke="#222" stroke-width="0.18" x="0" y="0" font-size="8.8" fill="#222" font-family="'Liberation Serif', 'Times New Roman', serif" text-anchor="middle" transform="translate(393,207) rotate(-90)">Voltage(V)</text>
<path d="M405,226 C405.03,223.67 405.1,216.67 405.2,212 C405.3,207.33 405.38,201.67 405.6,198 C405.82,194.33 406.1,192.08 406.5,190 C406.9,187.92 407.33,186.83 408,185.5 C408.67,184.17 409.58,182.92 410.5,182 C411.42,181.08 412.42,180.57 413.5,180 C414.58,179.43 415.92,179 417,178.6 C418.08,178.2 418.9,178.15 420,177.6 C421.1,177.05 422.17,176.03 423.6,175.3 C425.03,174.57 427.23,173.6 428.6,173.2 C429.97,172.8 431,172.73 431.8,172.9 C432.6,173.07 432.93,173.65 433.4,174.2 C433.87,174.75 434.08,175.8 434.6,176.2 C435.12,176.6 435.6,176.62 436.5,176.6 C437.4,176.58 438.25,176.23 440,176.1 C441.75,175.97 444.5,175.95 447,175.8 C449.5,175.65 452.33,175.4 455,175.2 C457.67,175 460.5,174.8 463,174.6 C465.5,174.4 468.25,174.18 470,174 C471.75,173.82 472.58,173.77 473.5,173.5 C474.42,173.23 474.42,172.6 475.5,172.4 C476.58,172.2 478.25,172.35 480,172.3 C481.75,172.25 483.92,172.15 486,172.1 C488.08,172.05 491.42,172.02 492.5,172" fill="none" stroke="#e8262c" stroke-width="1.3"/>
<path d="M404.5,203.8 C405.42,203.83 407.92,203.87 410,204 C412.08,204.13 415.17,204.38 417,204.6 C418.83,204.82 419.78,205.02 421,205.3 C422.22,205.58 423.38,205.85 424.3,206.3 C425.22,206.75 425.78,207.3 426.5,208 C427.22,208.7 427.85,209.67 428.6,210.5 C429.35,211.33 430.27,212.35 431,213 C431.73,213.65 432.17,214.02 433,214.4 C433.83,214.78 434.92,215.02 436,215.3 C437.08,215.58 437.7,215.7 439.5,216.1 C441.3,216.5 444.1,217.13 446.8,217.7 C449.5,218.27 452.13,218.82 455.7,219.5 C459.27,220.18 464.33,221.12 468.2,221.8 C472.07,222.48 475.27,223.1 478.9,223.6 C482.53,224.1 486.35,224.47 490,224.8 C493.65,225.13 497.47,225.17 500.8,225.6 C504.13,226.03 507.3,226.83 510,227.4 C512.7,227.97 514.73,228.42 517,229 C519.27,229.58 522.5,230.58 523.6,230.9" fill="none" stroke="#2331e0" stroke-width="1.3"/>
<line x1="414.2" y1="160" x2="411.2" y2="156.5" stroke="#d8c880" stroke-width="0.45"/><line x1="414.2" y1="160" x2="417.2" y2="156.5" stroke="#d8c880" stroke-width="0.45"/><line x1="414.2" y1="160" x2="411.2" y2="160" stroke="#d8c880" stroke-width="0.45"/><line x1="414.2" y1="160" x2="417.2" y2="160" stroke="#d8c880" stroke-width="0.45"/><line x1="414.2" y1="160" x2="411.2" y2="164" stroke="#d8c880" stroke-width="0.45"/><line x1="414.2" y1="160" x2="417.2" y2="163.5" stroke="#d8c880" stroke-width="0.45"/><line x1="420.2" y1="158.7" x2="417.2" y2="156.5" stroke="#d8c880" stroke-width="0.45"/><line x1="420.2" y1="158.7" x2="423.2" y2="156" stroke="#d8c880" stroke-width="0.45"/><line x1="420.2" y1="158.7" x2="417.2" y2="160" stroke="#d8c880" stroke-width="0.45"/><line x1="420.2" y1="158.7" x2="423.7" y2="160" stroke="#d8c880" stroke-width="0.45"/><line x1="420.2" y1="163.7" x2="417.2" y2="160" stroke="#d8c880" stroke-width="0.45"/><line x1="420.2" y1="163.7" x2="423.7" y2="160" stroke="#d8c880" stroke-width="0.45"/><line x1="420.2" y1="163.7" x2="417.2" y2="163.5" stroke="#d8c880" stroke-width="0.45"/><line x1="420.2" y1="163.7" x2="423.7" y2="167.5" stroke="#d8c880" stroke-width="0.45"/><line x1="414.2" y1="167" x2="411.2" y2="164" stroke="#d8c880" stroke-width="0.45"/><line x1="414.2" y1="167" x2="417.2" y2="163.5" stroke="#d8c880" stroke-width="0.45"/><line x1="414.2" y1="167" x2="411.7" y2="167" stroke="#d8c880" stroke-width="0.45"/><line x1="414.2" y1="167" x2="417.2" y2="168.5" stroke="#d8c880" stroke-width="0.45"/><line x1="414.2" y1="167" x2="414.2" y2="170" stroke="#d8c880" stroke-width="0.45"/><line x1="414.2" y1="163" x2="411.2" y2="160" stroke="#d8c880" stroke-width="0.45"/><line x1="414.2" y1="163" x2="417.2" y2="160" stroke="#d8c880" stroke-width="0.45"/><line x1="414.2" y1="163" x2="411.2" y2="164" stroke="#d8c880" stroke-width="0.45"/><line x1="414.2" y1="163" x2="417.2" y2="163.5" stroke="#d8c880" stroke-width="0.45"/><line x1="414.2" y1="163" x2="411.7" y2="167" stroke="#d8c880" stroke-width="0.45"/><circle cx="411.2" cy="156.5" r="0.95" fill="#b6c42e"/><circle cx="417.2" cy="156.5" r="0.95" fill="#b6c42e"/><circle cx="423.2" cy="156" r="0.95" fill="#b6c42e"/><circle cx="411.2" cy="160" r="0.95" fill="#b6c42e"/><circle cx="417.2" cy="160" r="0.95" fill="#b6c42e"/><circle cx="423.7" cy="160" r="0.95" fill="#b6c42e"/><circle cx="411.2" cy="164" r="0.95" fill="#b6c42e"/><circle cx="417.2" cy="163.5" r="0.95" fill="#b6c42e"/><circle cx="424.2" cy="164.5" r="0.95" fill="#b6c42e"/><circle cx="411.7" cy="167" r="0.95" fill="#b6c42e"/><circle cx="417.2" cy="168.5" r="0.95" fill="#b6c42e"/><circle cx="423.7" cy="167.5" r="0.95" fill="#b6c42e"/><circle cx="414.2" cy="170" r="0.95" fill="#b6c42e"/><circle cx="420.2" cy="170" r="0.95" fill="#b6c42e"/><circle cx="414.2" cy="163" r="1.4" fill="#dd9a60"/><circle cx="414.2" cy="160" r="1.55" fill="#c4501e"/><circle cx="420.2" cy="158.7" r="1.55" fill="#c4501e"/><circle cx="420.2" cy="163.7" r="1.55" fill="#c4501e"/><circle cx="414.2" cy="167" r="1.55" fill="#c4501e"/>
<path d="M427.4,188.5 L426.17,191.47 L423.2,192.7 L420.23,191.47 L419,188.5 L420.23,185.53 L423.2,184.3 L426.17,185.53 Z" fill="none" stroke="#b8a030" stroke-width="0.6"/><circle cx="427.4" cy="188.5" r="0.95" fill="#c9c23a"/><circle cx="426.17" cy="191.47" r="0.95" fill="#c9c23a"/><circle cx="423.2" cy="192.7" r="0.95" fill="#c9c23a"/><circle cx="420.23" cy="191.47" r="0.95" fill="#c9c23a"/><circle cx="419" cy="188.5" r="0.95" fill="#c9c23a"/><circle cx="420.23" cy="185.53" r="0.95" fill="#c9c23a"/><circle cx="423.2" cy="184.3" r="0.95" fill="#c9c23a"/><circle cx="426.17" cy="185.53" r="0.95" fill="#c9c23a"/><circle cx="423.6" cy="189" r="1.3" fill="#c4502a"/>
<path d="M415.4,219 L414.23,221.83 L411.4,223 L408.57,221.83 L407.4,219 L408.57,216.17 L411.4,215 L414.23,216.17 Z" fill="none" stroke="#b8a030" stroke-width="0.6"/><circle cx="415.4" cy="219" r="0.95" fill="#c9c23a"/><circle cx="414.23" cy="221.83" r="0.95" fill="#c9c23a"/><circle cx="411.4" cy="223" r="0.95" fill="#c9c23a"/><circle cx="408.57" cy="221.83" r="0.95" fill="#c9c23a"/><circle cx="407.4" cy="219" r="0.95" fill="#c9c23a"/><circle cx="408.57" cy="216.17" r="0.95" fill="#c9c23a"/><circle cx="411.4" cy="215" r="0.95" fill="#c9c23a"/><circle cx="414.23" cy="216.17" r="0.95" fill="#c9c23a"/>
<path d="M434,221.4 L432.07,224.11 L427.4,225.23 L422.73,224.11 L420.8,221.4 L422.73,218.69 L427.4,217.57 L432.07,218.69 Z" fill="none" stroke="#b8a030" stroke-width="0.6"/><circle cx="434" cy="221.4" r="0.95" fill="#c9c23a"/><circle cx="432.07" cy="224.11" r="0.95" fill="#c9c23a"/><circle cx="427.4" cy="225.23" r="0.95" fill="#c9c23a"/><circle cx="422.73" cy="224.11" r="0.95" fill="#c9c23a"/><circle cx="420.8" cy="221.4" r="0.95" fill="#c9c23a"/><circle cx="422.73" cy="218.69" r="0.95" fill="#c9c23a"/><circle cx="427.4" cy="217.57" r="0.95" fill="#c9c23a"/><circle cx="432.07" cy="218.69" r="0.95" fill="#c9c23a"/><circle cx="425.8" cy="222.8" r="1.3" fill="#c4502a"/><circle cx="429.2" cy="220.2" r="1.3" fill="#c4502a"/>
<line x1="472.5" y1="160.8" x2="472" y2="157.8" stroke="#c8b040" stroke-width="0.55"/><line x1="472.5" y1="160.8" x2="468.2" y2="159.5" stroke="#c8b040" stroke-width="0.55"/><line x1="472.5" y1="160.8" x2="476.5" y2="160" stroke="#c8b040" stroke-width="0.55"/><line x1="469" y1="164.8" x2="467.4" y2="164.4" stroke="#c8b040" stroke-width="0.55"/><line x1="469" y1="164.8" x2="468.4" y2="168.6" stroke="#c8b040" stroke-width="0.55"/><line x1="469" y1="164.8" x2="472.3" y2="167" stroke="#c8b040" stroke-width="0.55"/><line x1="475.5" y1="164.8" x2="477" y2="164.6" stroke="#c8b040" stroke-width="0.55"/><line x1="475.5" y1="164.8" x2="475.8" y2="168.6" stroke="#c8b040" stroke-width="0.55"/><line x1="475.5" y1="164.8" x2="472.3" y2="167" stroke="#c8b040" stroke-width="0.55"/><circle cx="472" cy="157.8" r="0.95" fill="#b6c42e"/><circle cx="468.2" cy="159.5" r="0.95" fill="#b6c42e"/><circle cx="476.5" cy="160" r="0.95" fill="#b6c42e"/><circle cx="467.4" cy="164.4" r="0.95" fill="#b6c42e"/><circle cx="477" cy="164.6" r="0.95" fill="#b6c42e"/><circle cx="468.4" cy="168.6" r="0.95" fill="#b6c42e"/><circle cx="475.8" cy="168.6" r="0.95" fill="#b6c42e"/><circle cx="472.3" cy="167" r="0.95" fill="#b6c42e"/><circle cx="472.3" cy="164.8" r="1.1" fill="#dd9a60"/><circle cx="472.5" cy="160.8" r="1.5" fill="#c4501e"/><circle cx="469" cy="164.8" r="1.5" fill="#c4501e"/><circle cx="475.5" cy="164.8" r="1.5" fill="#c4501e"/>
<line x1="454.4" y1="205.8" x2="453.9" y2="202.8" stroke="#c8b040" stroke-width="0.55"/><line x1="454.4" y1="205.8" x2="450.1" y2="204.5" stroke="#c8b040" stroke-width="0.55"/><line x1="454.4" y1="205.8" x2="458.4" y2="205" stroke="#c8b040" stroke-width="0.55"/><line x1="450.9" y1="209.8" x2="449.3" y2="209.4" stroke="#c8b040" stroke-width="0.55"/><line x1="450.9" y1="209.8" x2="450.3" y2="213.6" stroke="#c8b040" stroke-width="0.55"/><line x1="450.9" y1="209.8" x2="454.2" y2="212" stroke="#c8b040" stroke-width="0.55"/><line x1="457.4" y1="209.8" x2="458.9" y2="209.6" stroke="#c8b040" stroke-width="0.55"/><line x1="457.4" y1="209.8" x2="457.7" y2="213.6" stroke="#c8b040" stroke-width="0.55"/><line x1="457.4" y1="209.8" x2="454.2" y2="212" stroke="#c8b040" stroke-width="0.55"/><circle cx="453.9" cy="202.8" r="0.95" fill="#b6c42e"/><circle cx="450.1" cy="204.5" r="0.95" fill="#b6c42e"/><circle cx="458.4" cy="205" r="0.95" fill="#b6c42e"/><circle cx="449.3" cy="209.4" r="0.95" fill="#b6c42e"/><circle cx="458.9" cy="209.6" r="0.95" fill="#b6c42e"/><circle cx="450.3" cy="213.6" r="0.95" fill="#b6c42e"/><circle cx="457.7" cy="213.6" r="0.95" fill="#b6c42e"/><circle cx="454.2" cy="212" r="0.95" fill="#b6c42e"/><circle cx="454.2" cy="209.8" r="1.1" fill="#dd9a60"/><circle cx="454.4" cy="205.8" r="1.5" fill="#c4501e"/><circle cx="450.9" cy="209.8" r="1.5" fill="#c4501e"/><circle cx="457.4" cy="209.8" r="1.5" fill="#c4501e"/>
<line x1="506" y1="207.5" x2="503" y2="204" stroke="#d8c880" stroke-width="0.45"/><line x1="506" y1="207.5" x2="509" y2="204" stroke="#d8c880" stroke-width="0.45"/><line x1="506" y1="207.5" x2="503" y2="207.5" stroke="#d8c880" stroke-width="0.45"/><line x1="506" y1="207.5" x2="509" y2="207.5" stroke="#d8c880" stroke-width="0.45"/><line x1="506" y1="207.5" x2="503" y2="211.5" stroke="#d8c880" stroke-width="0.45"/><line x1="506" y1="207.5" x2="509" y2="211" stroke="#d8c880" stroke-width="0.45"/><line x1="512" y1="206.2" x2="509" y2="204" stroke="#d8c880" stroke-width="0.45"/><line x1="512" y1="206.2" x2="515" y2="203.5" stroke="#d8c880" stroke-width="0.45"/><line x1="512" y1="206.2" x2="509" y2="207.5" stroke="#d8c880" stroke-width="0.45"/><line x1="512" y1="206.2" x2="515.5" y2="207.5" stroke="#d8c880" stroke-width="0.45"/><line x1="512" y1="211.2" x2="509" y2="207.5" stroke="#d8c880" stroke-width="0.45"/><line x1="512" y1="211.2" x2="515.5" y2="207.5" stroke="#d8c880" stroke-width="0.45"/><line x1="512" y1="211.2" x2="509" y2="211" stroke="#d8c880" stroke-width="0.45"/><line x1="512" y1="211.2" x2="515.5" y2="215" stroke="#d8c880" stroke-width="0.45"/><line x1="506" y1="214.5" x2="503" y2="211.5" stroke="#d8c880" stroke-width="0.45"/><line x1="506" y1="214.5" x2="509" y2="211" stroke="#d8c880" stroke-width="0.45"/><line x1="506" y1="214.5" x2="503.5" y2="214.5" stroke="#d8c880" stroke-width="0.45"/><line x1="506" y1="214.5" x2="509" y2="216" stroke="#d8c880" stroke-width="0.45"/><line x1="506" y1="214.5" x2="506" y2="217.5" stroke="#d8c880" stroke-width="0.45"/><line x1="506" y1="210.5" x2="503" y2="207.5" stroke="#d8c880" stroke-width="0.45"/><line x1="506" y1="210.5" x2="509" y2="207.5" stroke="#d8c880" stroke-width="0.45"/><line x1="506" y1="210.5" x2="503" y2="211.5" stroke="#d8c880" stroke-width="0.45"/><line x1="506" y1="210.5" x2="509" y2="211" stroke="#d8c880" stroke-width="0.45"/><line x1="506" y1="210.5" x2="503.5" y2="214.5" stroke="#d8c880" stroke-width="0.45"/><circle cx="503" cy="204" r="0.95" fill="#b6c42e"/><circle cx="509" cy="204" r="0.95" fill="#b6c42e"/><circle cx="515" cy="203.5" r="0.95" fill="#b6c42e"/><circle cx="503" cy="207.5" r="0.95" fill="#b6c42e"/><circle cx="509" cy="207.5" r="0.95" fill="#b6c42e"/><circle cx="515.5" cy="207.5" r="0.95" fill="#b6c42e"/><circle cx="503" cy="211.5" r="0.95" fill="#b6c42e"/><circle cx="509" cy="211" r="0.95" fill="#b6c42e"/><circle cx="516" cy="212" r="0.95" fill="#b6c42e"/><circle cx="503.5" cy="214.5" r="0.95" fill="#b6c42e"/><circle cx="509" cy="216" r="0.95" fill="#b6c42e"/><circle cx="515.5" cy="215" r="0.95" fill="#b6c42e"/><circle cx="506" cy="217.5" r="0.95" fill="#b6c42e"/><circle cx="512" cy="217.5" r="0.95" fill="#b6c42e"/><circle cx="506" cy="210.5" r="1.4" fill="#dd9a60"/><circle cx="506" cy="207.5" r="1.55" fill="#c4501e"/><circle cx="512" cy="206.2" r="1.55" fill="#c4501e"/><circle cx="512" cy="211.2" r="1.55" fill="#c4501e"/><circle cx="506" cy="214.5" r="1.55" fill="#c4501e"/>
<text stroke="#222" stroke-width="0.18" x="427.8" y="165.7" font-size="7.3" fill="#222" font-family="'Liberation Serif', 'Times New Roman', serif" text-anchor="start">MgS</text>
<text stroke="#222" stroke-width="0.18" x="432.3" y="188.9" font-size="7.3" fill="#222" font-family="'Liberation Serif', 'Times New Roman', serif"><tspan>MgS</tspan><tspan font-size="4.38" dy="1.1">8</tspan></text>
<text stroke="#222" stroke-width="0.18" x="409.3" y="231" font-size="7.2" fill="#222" font-family="'Liberation Serif', 'Times New Roman', serif" text-anchor="start">S</text>
<text stroke="#222" stroke-width="0.18" x="423.2" y="232.4" font-size="7.3" fill="#222" font-family="'Liberation Serif', 'Times New Roman', serif"><tspan>MgS</tspan><tspan font-size="4.38" dy="1.1">6</tspan></text>
<text stroke="#222" stroke-width="0.18" x="481.8" y="167.6" font-size="7.2" fill="#222" font-family="'Liberation Serif', 'Times New Roman', serif"><tspan>Mg</tspan><tspan font-size="4.32" dy="1.1">3</tspan><tspan dy="-1.1">S</tspan><tspan font-size="4.32" dy="1.1">8</tspan></text>
<text stroke="#222" stroke-width="0.18" x="463" y="212.8" font-size="7.2" fill="#222" font-family="'Liberation Serif', 'Times New Roman', serif"><tspan>Mg</tspan><tspan font-size="4.32" dy="1.1">3</tspan><tspan dy="-1.1">S</tspan><tspan font-size="4.32" dy="1.1">8</tspan></text>
<text stroke="#222" stroke-width="0.18" x="518.9" y="214.3" font-size="7.3" fill="#222" font-family="'Liberation Serif', 'Times New Roman', serif" text-anchor="start">MgS</text>
<line x1="411" y1="171" x2="407.2" y2="177.5" stroke="#e8262c" stroke-width="0.9"/><path d="M407.2,177.5 L407.37,175.31 L409.03,176.27 Z" fill="#e8262c"/>
<line x1="420" y1="196.4" x2="416.6" y2="202" stroke="#2331e0" stroke-width="0.9"/><path d="M416.6,202 L416.81,199.81 L418.45,200.8 Z" fill="#2331e0"/>
<line x1="410.5" y1="212.6" x2="406.3" y2="207.6" stroke="#2331e0" stroke-width="0.9"/><path d="M406.3,207.6 L408.31,208.5 L406.84,209.73 Z" fill="#2331e0"/>
<line x1="426" y1="216.8" x2="426" y2="209.3" stroke="#2331e0" stroke-width="0.9"/><path d="M426,209.3 L426.96,211.28 L425.04,211.28 Z" fill="#2331e0"/>
<line x1="446.8" y1="211.9" x2="440.4" y2="214.6" stroke="#2331e0" stroke-width="0.9"/><path d="M440.4,214.6 L441.85,212.95 L442.6,214.71 Z" fill="#2331e0"/>
<line x1="516" y1="220.8" x2="519.6" y2="225.4" stroke="#2331e0" stroke-width="0.9"/><path d="M519.6,225.4 L517.63,224.43 L519.13,223.25 Z" fill="#2331e0"/>
<text stroke="#222" stroke-width="0.18" x="421" y="252" font-size="7" fill="#222" font-family="'Liberation Serif', 'Times New Roman', serif" text-anchor="start">S</text>
<line x1="428" y1="250.3" x2="450.5" y2="250.3" stroke="#8ab8e0" stroke-width="1.1"/><path d="M450.5,250.3 L448.52,251.26 L448.52,249.34 Z" fill="#8ab8e0"/>
<text stroke="#222" stroke-width="0.18" x="431.5" y="247.4" font-size="6.6" fill="#222" font-family="'Liberation Serif', 'Times New Roman', serif"><tspan>MgS</tspan><tspan font-size="3.96" dy="1.1">4</tspan></text>
<text stroke="#222" stroke-width="0.18" x="454" y="252" font-size="6.4" fill="#222" font-family="'Liberation Serif', 'Times New Roman', serif"><tspan>MgS</tspan><tspan font-size="3.84" dy="1.1">4</tspan></text>
<line x1="473" y1="249.7" x2="496.6" y2="249.7" stroke="#3a78d8" stroke-width="0.9"/><path d="M496.6,249.7 L494.8,250.57 L494.8,248.83 Z" fill="#3a78d8"/>
<line x1="496.6" y1="252.3" x2="473" y2="252.3" stroke="#e8262c" stroke-width="0.9"/><path d="M473,252.3 L474.8,251.43 L474.8,253.17 Z" fill="#e8262c"/>
<circle cx="484.7" cy="252.3" r="1.1" fill="#e8262c"/>
<text stroke="#222" stroke-width="0.18" x="497.7" y="252" font-size="6.6" fill="#222" font-family="'Liberation Serif', 'Times New Roman', serif"><tspan>Mg</tspan><tspan font-size="3.96" dy="1.1">3</tspan><tspan dy="-1.1">S</tspan><tspan font-size="3.96" dy="1.1">8</tspan><tspan dy="-1.1"> or MgS</tspan></text>
</svg>
</body></html>
